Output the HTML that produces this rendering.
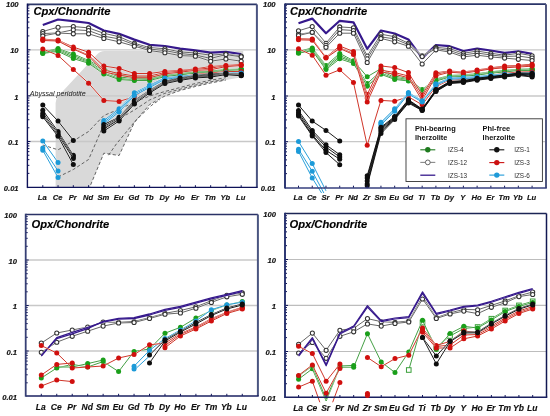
<!DOCTYPE html>
<html><head><meta charset="utf-8"><style>
html,body{margin:0;padding:0;background:#fff;}
svg{display:block;will-change:transform;}
.ax{font-family:"Liberation Sans",sans-serif;font-weight:bold;font-style:italic;font-size:7.6px;fill:#111;stroke:#111;stroke-width:0.15px;}
.ti{font-family:"Liberation Sans",sans-serif;font-weight:bold;font-style:italic;font-size:11.2px;fill:#000;stroke:#000;stroke-width:0.14px;}
.lg{font-family:"Liberation Sans",sans-serif;font-weight:bold;font-size:7.4px;fill:#111;}
.ab{font-family:"Liberation Sans",sans-serif;font-style:italic;font-size:7.1px;fill:#1a1a1a;}
.lt{font-family:"Liberation Sans",sans-serif;font-size:6.4px;fill:#2e2e2e;}
</style></head><body>
<svg width="550" height="416" viewBox="0 0 550 416">
<rect width="550" height="416" fill="#fff"/>
<path d="M55.6,187.3 L55.6,103 Q55.6,99 58.6,95.8 L96.5,55 Q100,51 104.5,51 L243.2,51 L243.2,77 L226,80 L210.7,83 L195.5,86.5 L180.2,90.5 L164.9,96 L149.7,104.5 L134.4,122.5 L119.1,155.5 L104,153.2 L89.6,187.4 Z" fill="#d9d9d9"/>
<line x1="27.4" y1="49.8" x2="256.9" y2="49.8" stroke="#c8c8c8" stroke-width="1.3"/>
<line x1="27.4" y1="95.9" x2="256.9" y2="95.9" stroke="#c8c8c8" stroke-width="1.3"/>
<line x1="27.4" y1="141.5" x2="256.9" y2="141.5" stroke="#c8c8c8" stroke-width="1.3"/>
<clipPath id="c1"><rect x="27.3" y="4.2" width="229.5" height="183.1"/></clipPath><g clip-path="url(#c1)">
<polyline points="42.8,145 58.06,149.8 73.32,141 88.58,131.5 103.84,115.5 119.1,109.2 134.36,102.3 149.62,96 164.88,91.5 180.14,87.5 195.4,83.5 210.66,80.2 225.92,77.7" fill="none" stroke="#555" stroke-width="0.9" stroke-dasharray="3.2,2.2" stroke-linejoin="round"/>
<polyline points="58.06,177 73.32,169.5 88.58,159.5 103.84,124.5 119.1,119 134.36,110 149.62,100 164.88,93.3 180.14,89.2 195.4,85.1 210.66,81.8 225.92,79.4" fill="none" stroke="#555" stroke-width="0.9" stroke-dasharray="3.2,2.2" stroke-linejoin="round"/>
<polyline points="88.58,189.8 103.84,153.2 119.1,155.5 134.36,122.5 149.62,104.5 164.88,96 180.14,90.5 195.4,86.5 210.66,83 225.92,80" fill="none" stroke="#555" stroke-width="0.9" stroke-dasharray="3.2,2.2" stroke-linejoin="round"/>
<polyline points="108.5,155.2 116.4,143.9 126.8,131.4 135.2,121 145,111.5 152,105 160,99.5" fill="none" stroke="#555" stroke-width="0.9" stroke-dasharray="3.2,2.2"/>
</g>
<polyline points="42.8,25 58.06,19.5 73.32,21.2 88.58,23 103.84,30.5 119.1,33.8 134.36,39.6 149.62,44.8 164.88,46 180.14,48.7 195.4,50.4 210.66,52.6 225.92,51.9 241.18,54" fill="none" stroke="#fff" stroke-opacity="0.7" stroke-width="2.8000000000000003" stroke-linejoin="round"/>
<polyline points="42.8,25 58.06,19.5 73.32,21.2 88.58,23 103.84,30.5 119.1,33.8 134.36,39.6 149.62,44.8 164.88,46 180.14,48.7 195.4,50.4 210.66,52.6 225.92,51.9 241.18,54" fill="none" stroke="#36198c" stroke-width="2.2" stroke-linejoin="round"/>
<polyline points="42.8,31.5 58.06,27.2 73.32,26.5 88.58,27.9 103.84,33.3 119.1,36.7 134.36,43.3 149.62,47.6 164.88,48.7 180.14,51.9 195.4,53 210.66,55.2 225.92,54 241.18,56.1" fill="none" stroke="#fff" stroke-opacity="0.7" stroke-width="1.5499999999999998" stroke-linejoin="round"/>
<polyline points="42.8,31.5 58.06,27.2 73.32,26.5 88.58,27.9 103.84,33.3 119.1,36.7 134.36,43.3 149.62,47.6 164.88,48.7 180.14,51.9 195.4,53 210.66,55.2 225.92,54 241.18,56.1" fill="none" stroke="#5e5e5e" stroke-width="0.95" stroke-linejoin="round"/>
<circle cx="42.8" cy="31.5" r="2.05" fill="#fff" stroke="#333333" stroke-width="1.05"/>
<circle cx="58.06" cy="27.2" r="2.05" fill="#fff" stroke="#333333" stroke-width="1.05"/>
<circle cx="73.32" cy="26.5" r="2.05" fill="#fff" stroke="#333333" stroke-width="1.05"/>
<circle cx="88.58" cy="27.9" r="2.05" fill="#fff" stroke="#333333" stroke-width="1.05"/>
<circle cx="103.84" cy="33.3" r="2.05" fill="#fff" stroke="#333333" stroke-width="1.05"/>
<circle cx="119.1" cy="36.7" r="2.05" fill="#fff" stroke="#333333" stroke-width="1.05"/>
<circle cx="134.36" cy="43.3" r="2.05" fill="#fff" stroke="#333333" stroke-width="1.05"/>
<circle cx="149.62" cy="47.6" r="2.05" fill="#fff" stroke="#333333" stroke-width="1.05"/>
<circle cx="164.88" cy="48.7" r="2.05" fill="#fff" stroke="#333333" stroke-width="1.05"/>
<circle cx="180.14" cy="51.9" r="2.05" fill="#fff" stroke="#333333" stroke-width="1.05"/>
<circle cx="195.4" cy="53" r="2.05" fill="#fff" stroke="#333333" stroke-width="1.05"/>
<circle cx="210.66" cy="55.2" r="2.05" fill="#fff" stroke="#333333" stroke-width="1.05"/>
<circle cx="225.92" cy="54" r="2.05" fill="#fff" stroke="#333333" stroke-width="1.05"/>
<circle cx="241.18" cy="56.1" r="2.05" fill="#fff" stroke="#333333" stroke-width="1.05"/>
<polyline points="42.8,33.5 58.06,33 73.32,29.7 88.58,30.6 103.84,36.2 119.1,38.9 134.36,44.7 149.62,49.1 164.88,50.5 180.14,53.5 195.4,55 210.66,58.4 225.92,54.6 241.18,56.8" fill="none" stroke="#fff" stroke-opacity="0.7" stroke-width="1.5499999999999998" stroke-linejoin="round"/>
<polyline points="42.8,33.5 58.06,33 73.32,29.7 88.58,30.6 103.84,36.2 119.1,38.9 134.36,44.7 149.62,49.1 164.88,50.5 180.14,53.5 195.4,55 210.66,58.4 225.92,54.6 241.18,56.8" fill="none" stroke="#5e5e5e" stroke-width="0.95" stroke-linejoin="round"/>
<circle cx="42.8" cy="33.5" r="2.05" fill="#fff" stroke="#333333" stroke-width="1.05"/>
<circle cx="58.06" cy="33" r="2.05" fill="#fff" stroke="#333333" stroke-width="1.05"/>
<circle cx="73.32" cy="29.7" r="2.05" fill="#fff" stroke="#333333" stroke-width="1.05"/>
<circle cx="88.58" cy="30.6" r="2.05" fill="#fff" stroke="#333333" stroke-width="1.05"/>
<circle cx="103.84" cy="36.2" r="2.05" fill="#fff" stroke="#333333" stroke-width="1.05"/>
<circle cx="119.1" cy="38.9" r="2.05" fill="#fff" stroke="#333333" stroke-width="1.05"/>
<circle cx="134.36" cy="44.7" r="2.05" fill="#fff" stroke="#333333" stroke-width="1.05"/>
<circle cx="149.62" cy="49.1" r="2.05" fill="#fff" stroke="#333333" stroke-width="1.05"/>
<circle cx="164.88" cy="50.5" r="2.05" fill="#fff" stroke="#333333" stroke-width="1.05"/>
<circle cx="180.14" cy="53.5" r="2.05" fill="#fff" stroke="#333333" stroke-width="1.05"/>
<circle cx="195.4" cy="55" r="2.05" fill="#fff" stroke="#333333" stroke-width="1.05"/>
<circle cx="210.66" cy="58.4" r="2.05" fill="#fff" stroke="#333333" stroke-width="1.05"/>
<circle cx="225.92" cy="54.6" r="2.05" fill="#fff" stroke="#333333" stroke-width="1.05"/>
<circle cx="241.18" cy="56.8" r="2.05" fill="#fff" stroke="#333333" stroke-width="1.05"/>
<polyline points="42.8,35.9 58.06,33 73.32,33.8 88.58,33.8 103.84,38.4 119.1,41.8 134.36,46.2 149.62,50.5 164.88,52.7 180.14,55.6 195.4,56.2 210.66,61.2 225.92,59 241.18,61.2" fill="none" stroke="#fff" stroke-opacity="0.7" stroke-width="1.5499999999999998" stroke-linejoin="round"/>
<polyline points="42.8,35.9 58.06,33 73.32,33.8 88.58,33.8 103.84,38.4 119.1,41.8 134.36,46.2 149.62,50.5 164.88,52.7 180.14,55.6 195.4,56.2 210.66,61.2 225.92,59 241.18,61.2" fill="none" stroke="#5e5e5e" stroke-width="0.95" stroke-linejoin="round"/>
<circle cx="42.8" cy="35.9" r="2.05" fill="#fff" stroke="#333333" stroke-width="1.05"/>
<circle cx="58.06" cy="33" r="2.05" fill="#fff" stroke="#333333" stroke-width="1.05"/>
<circle cx="73.32" cy="33.8" r="2.05" fill="#fff" stroke="#333333" stroke-width="1.05"/>
<circle cx="88.58" cy="33.8" r="2.05" fill="#fff" stroke="#333333" stroke-width="1.05"/>
<circle cx="103.84" cy="38.4" r="2.05" fill="#fff" stroke="#333333" stroke-width="1.05"/>
<circle cx="119.1" cy="41.8" r="2.05" fill="#fff" stroke="#333333" stroke-width="1.05"/>
<circle cx="134.36" cy="46.2" r="2.05" fill="#fff" stroke="#333333" stroke-width="1.05"/>
<circle cx="149.62" cy="50.5" r="2.05" fill="#fff" stroke="#333333" stroke-width="1.05"/>
<circle cx="164.88" cy="52.7" r="2.05" fill="#fff" stroke="#333333" stroke-width="1.05"/>
<circle cx="180.14" cy="55.6" r="2.05" fill="#fff" stroke="#333333" stroke-width="1.05"/>
<circle cx="195.4" cy="56.2" r="2.05" fill="#fff" stroke="#333333" stroke-width="1.05"/>
<circle cx="210.66" cy="61.2" r="2.05" fill="#fff" stroke="#333333" stroke-width="1.05"/>
<circle cx="225.92" cy="59" r="2.05" fill="#fff" stroke="#333333" stroke-width="1.05"/>
<circle cx="241.18" cy="61.2" r="2.05" fill="#fff" stroke="#333333" stroke-width="1.05"/>
<polyline points="42.8,51.9 58.06,48.6 73.32,54 88.58,60.5 103.84,68.6 119.1,75 134.36,76.8 149.62,76.8 164.88,75 180.14,73.3 195.4,71.8 210.66,71 225.92,69.6 241.18,69" fill="none" stroke="#fff" stroke-opacity="0.7" stroke-width="1.5499999999999998" stroke-linejoin="round"/>
<polyline points="42.8,51.9 58.06,48.6 73.32,54 88.58,60.5 103.84,68.6 119.1,75 134.36,76.8 149.62,76.8 164.88,75 180.14,73.3 195.4,71.8 210.66,71 225.92,69.6 241.18,69" fill="none" stroke="#3a9a3a" stroke-width="0.95" stroke-linejoin="round"/>
<circle cx="42.8" cy="51.9" r="2.5" fill="#1a9f1a"/>
<circle cx="58.06" cy="48.6" r="2.5" fill="#1a9f1a"/>
<circle cx="73.32" cy="54" r="2.5" fill="#1a9f1a"/>
<circle cx="88.58" cy="60.5" r="2.5" fill="#1a9f1a"/>
<circle cx="103.84" cy="68.6" r="2.5" fill="#1a9f1a"/>
<circle cx="119.1" cy="75" r="2.5" fill="#1a9f1a"/>
<circle cx="134.36" cy="76.8" r="2.5" fill="#1a9f1a"/>
<circle cx="149.62" cy="76.8" r="2.5" fill="#1a9f1a"/>
<circle cx="164.88" cy="75" r="2.5" fill="#1a9f1a"/>
<circle cx="180.14" cy="73.3" r="2.5" fill="#1a9f1a"/>
<circle cx="195.4" cy="71.8" r="2.5" fill="#1a9f1a"/>
<circle cx="210.66" cy="71" r="2.5" fill="#1a9f1a"/>
<circle cx="225.92" cy="69.6" r="2.5" fill="#1a9f1a"/>
<circle cx="241.18" cy="69" r="2.5" fill="#1a9f1a"/>
<polyline points="42.8,52.5 58.06,49.5 73.32,55.5 88.58,61.5 103.84,71 119.1,77 134.36,78.5 149.62,78.5 164.88,75.5 180.14,73.8 195.4,72.2 210.66,71.4 225.92,69.9 241.18,69.3" fill="none" stroke="#fff" stroke-opacity="0.7" stroke-width="1.5499999999999998" stroke-linejoin="round"/>
<polyline points="42.8,52.5 58.06,49.5 73.32,55.5 88.58,61.5 103.84,71 119.1,77 134.36,78.5 149.62,78.5 164.88,75.5 180.14,73.8 195.4,72.2 210.66,71.4 225.92,69.9 241.18,69.3" fill="none" stroke="#3a9a3a" stroke-width="0.95" stroke-linejoin="round"/>
<circle cx="42.8" cy="52.5" r="2.5" fill="#1a9f1a"/>
<circle cx="58.06" cy="49.5" r="2.5" fill="#1a9f1a"/>
<circle cx="73.32" cy="55.5" r="2.5" fill="#1a9f1a"/>
<circle cx="88.58" cy="61.5" r="2.5" fill="#1a9f1a"/>
<circle cx="103.84" cy="71" r="2.5" fill="#1a9f1a"/>
<circle cx="119.1" cy="77" r="2.5" fill="#1a9f1a"/>
<circle cx="134.36" cy="78.5" r="2.5" fill="#1a9f1a"/>
<circle cx="149.62" cy="78.5" r="2.5" fill="#1a9f1a"/>
<circle cx="164.88" cy="75.5" r="2.5" fill="#1a9f1a"/>
<circle cx="180.14" cy="73.8" r="2.5" fill="#1a9f1a"/>
<circle cx="195.4" cy="72.2" r="2.5" fill="#1a9f1a"/>
<circle cx="210.66" cy="71.4" r="2.5" fill="#1a9f1a"/>
<circle cx="225.92" cy="69.9" r="2.5" fill="#1a9f1a"/>
<circle cx="241.18" cy="69.3" r="2.5" fill="#1a9f1a"/>
<polyline points="42.8,53 58.06,50.5 73.32,57 88.58,62.4 103.84,73 119.1,78.5 134.36,80 149.62,79.5 164.88,76 180.14,74.3 195.4,72.7 210.66,71.9 225.92,70.2 241.18,69.6" fill="none" stroke="#fff" stroke-opacity="0.7" stroke-width="1.5499999999999998" stroke-linejoin="round"/>
<polyline points="42.8,53 58.06,50.5 73.32,57 88.58,62.4 103.84,73 119.1,78.5 134.36,80 149.62,79.5 164.88,76 180.14,74.3 195.4,72.7 210.66,71.9 225.92,70.2 241.18,69.6" fill="none" stroke="#3a9a3a" stroke-width="0.95" stroke-linejoin="round"/>
<circle cx="42.8" cy="53" r="2.5" fill="#1a9f1a"/>
<circle cx="58.06" cy="50.5" r="2.5" fill="#1a9f1a"/>
<circle cx="73.32" cy="57" r="2.5" fill="#1a9f1a"/>
<circle cx="88.58" cy="62.4" r="2.5" fill="#1a9f1a"/>
<circle cx="103.84" cy="73" r="2.5" fill="#1a9f1a"/>
<circle cx="119.1" cy="78.5" r="2.5" fill="#1a9f1a"/>
<circle cx="134.36" cy="80" r="2.5" fill="#1a9f1a"/>
<circle cx="149.62" cy="79.5" r="2.5" fill="#1a9f1a"/>
<circle cx="164.88" cy="76" r="2.5" fill="#1a9f1a"/>
<circle cx="180.14" cy="74.3" r="2.5" fill="#1a9f1a"/>
<circle cx="195.4" cy="72.7" r="2.5" fill="#1a9f1a"/>
<circle cx="210.66" cy="71.9" r="2.5" fill="#1a9f1a"/>
<circle cx="225.92" cy="70.2" r="2.5" fill="#1a9f1a"/>
<circle cx="241.18" cy="69.6" r="2.5" fill="#1a9f1a"/>
<polyline points="42.8,53.4 58.06,51.4 73.32,58.6 88.58,63.2 103.84,74 119.1,79.5 134.36,80.5 149.62,80.5 164.88,76.6 180.14,74.8 195.4,73.2 210.66,72.4 225.92,70.5 241.18,69.9" fill="none" stroke="#fff" stroke-opacity="0.7" stroke-width="1.5499999999999998" stroke-linejoin="round"/>
<polyline points="42.8,53.4 58.06,51.4 73.32,58.6 88.58,63.2 103.84,74 119.1,79.5 134.36,80.5 149.62,80.5 164.88,76.6 180.14,74.8 195.4,73.2 210.66,72.4 225.92,70.5 241.18,69.9" fill="none" stroke="#3a9a3a" stroke-width="0.95" stroke-linejoin="round"/>
<circle cx="42.8" cy="53.4" r="2.5" fill="#1a9f1a"/>
<circle cx="58.06" cy="51.4" r="2.5" fill="#1a9f1a"/>
<circle cx="73.32" cy="58.6" r="2.5" fill="#1a9f1a"/>
<circle cx="88.58" cy="63.2" r="2.5" fill="#1a9f1a"/>
<circle cx="103.84" cy="74" r="2.5" fill="#1a9f1a"/>
<circle cx="119.1" cy="79.5" r="2.5" fill="#1a9f1a"/>
<circle cx="134.36" cy="80.5" r="2.5" fill="#1a9f1a"/>
<circle cx="149.62" cy="80.5" r="2.5" fill="#1a9f1a"/>
<circle cx="164.88" cy="76.6" r="2.5" fill="#1a9f1a"/>
<circle cx="180.14" cy="74.8" r="2.5" fill="#1a9f1a"/>
<circle cx="195.4" cy="73.2" r="2.5" fill="#1a9f1a"/>
<circle cx="210.66" cy="72.4" r="2.5" fill="#1a9f1a"/>
<circle cx="225.92" cy="70.5" r="2.5" fill="#1a9f1a"/>
<circle cx="241.18" cy="69.9" r="2.5" fill="#1a9f1a"/>
<polyline points="42.8,39.1 58.06,40.1 73.32,47.1 88.58,52.2 103.84,66 119.1,68.4 134.36,73.5 149.62,73.5 164.88,71.4 180.14,70.5 195.4,68.9 210.66,66.5 225.92,65.5 241.18,64.4" fill="none" stroke="#fff" stroke-opacity="0.7" stroke-width="1.5499999999999998" stroke-linejoin="round"/>
<polyline points="42.8,39.1 58.06,40.1 73.32,47.1 88.58,52.2 103.84,66 119.1,68.4 134.36,73.5 149.62,73.5 164.88,71.4 180.14,70.5 195.4,68.9 210.66,66.5 225.92,65.5 241.18,64.4" fill="none" stroke="#cc2a1e" stroke-width="0.95" stroke-linejoin="round"/>
<circle cx="42.8" cy="39.1" r="2.5" fill="#d0100e"/>
<circle cx="58.06" cy="40.1" r="2.5" fill="#d0100e"/>
<circle cx="73.32" cy="47.1" r="2.5" fill="#d0100e"/>
<circle cx="88.58" cy="52.2" r="2.5" fill="#d0100e"/>
<circle cx="103.84" cy="66" r="2.5" fill="#d0100e"/>
<circle cx="119.1" cy="68.4" r="2.5" fill="#d0100e"/>
<circle cx="134.36" cy="73.5" r="2.5" fill="#d0100e"/>
<circle cx="149.62" cy="73.5" r="2.5" fill="#d0100e"/>
<circle cx="164.88" cy="71.4" r="2.5" fill="#d0100e"/>
<circle cx="180.14" cy="70.5" r="2.5" fill="#d0100e"/>
<circle cx="195.4" cy="68.9" r="2.5" fill="#d0100e"/>
<circle cx="210.66" cy="66.5" r="2.5" fill="#d0100e"/>
<circle cx="225.92" cy="65.5" r="2.5" fill="#d0100e"/>
<circle cx="241.18" cy="64.4" r="2.5" fill="#d0100e"/>
<polyline points="42.8,39.8 58.06,40.8 73.32,48.5 88.58,55.1 103.84,70.1 119.1,73.5 134.36,76 149.62,76 164.88,72.6 180.14,71.3 195.4,69.5 210.66,68 225.92,66 241.18,64.9" fill="none" stroke="#fff" stroke-opacity="0.7" stroke-width="1.5499999999999998" stroke-linejoin="round"/>
<polyline points="42.8,39.8 58.06,40.8 73.32,48.5 88.58,55.1 103.84,70.1 119.1,73.5 134.36,76 149.62,76 164.88,72.6 180.14,71.3 195.4,69.5 210.66,68 225.92,66 241.18,64.9" fill="none" stroke="#cc2a1e" stroke-width="0.95" stroke-linejoin="round"/>
<circle cx="42.8" cy="39.8" r="2.5" fill="#d0100e"/>
<circle cx="58.06" cy="40.8" r="2.5" fill="#d0100e"/>
<circle cx="73.32" cy="48.5" r="2.5" fill="#d0100e"/>
<circle cx="88.58" cy="55.1" r="2.5" fill="#d0100e"/>
<circle cx="103.84" cy="70.1" r="2.5" fill="#d0100e"/>
<circle cx="119.1" cy="73.5" r="2.5" fill="#d0100e"/>
<circle cx="134.36" cy="76" r="2.5" fill="#d0100e"/>
<circle cx="149.62" cy="76" r="2.5" fill="#d0100e"/>
<circle cx="164.88" cy="72.6" r="2.5" fill="#d0100e"/>
<circle cx="180.14" cy="71.3" r="2.5" fill="#d0100e"/>
<circle cx="195.4" cy="69.5" r="2.5" fill="#d0100e"/>
<circle cx="210.66" cy="68" r="2.5" fill="#d0100e"/>
<circle cx="225.92" cy="66" r="2.5" fill="#d0100e"/>
<circle cx="241.18" cy="64.9" r="2.5" fill="#d0100e"/>
<polyline points="42.8,40.5 58.06,41 73.32,49 88.58,56 103.84,71.8 119.1,75.2 134.36,77.7 149.62,77.7 164.88,73.8 180.14,72.2 195.4,70.3 210.66,69.7 225.92,66.6 241.18,65.5" fill="none" stroke="#fff" stroke-opacity="0.7" stroke-width="1.5499999999999998" stroke-linejoin="round"/>
<polyline points="42.8,40.5 58.06,41 73.32,49 88.58,56 103.84,71.8 119.1,75.2 134.36,77.7 149.62,77.7 164.88,73.8 180.14,72.2 195.4,70.3 210.66,69.7 225.92,66.6 241.18,65.5" fill="none" stroke="#cc2a1e" stroke-width="0.95" stroke-linejoin="round"/>
<circle cx="42.8" cy="40.5" r="2.5" fill="#d0100e"/>
<circle cx="58.06" cy="41" r="2.5" fill="#d0100e"/>
<circle cx="73.32" cy="49" r="2.5" fill="#d0100e"/>
<circle cx="88.58" cy="56" r="2.5" fill="#d0100e"/>
<circle cx="103.84" cy="71.8" r="2.5" fill="#d0100e"/>
<circle cx="119.1" cy="75.2" r="2.5" fill="#d0100e"/>
<circle cx="134.36" cy="77.7" r="2.5" fill="#d0100e"/>
<circle cx="149.62" cy="77.7" r="2.5" fill="#d0100e"/>
<circle cx="164.88" cy="73.8" r="2.5" fill="#d0100e"/>
<circle cx="180.14" cy="72.2" r="2.5" fill="#d0100e"/>
<circle cx="195.4" cy="70.3" r="2.5" fill="#d0100e"/>
<circle cx="210.66" cy="69.7" r="2.5" fill="#d0100e"/>
<circle cx="225.92" cy="66.6" r="2.5" fill="#d0100e"/>
<circle cx="241.18" cy="65.5" r="2.5" fill="#d0100e"/>
<polyline points="42.8,49 58.06,55.4 73.32,69.5 88.58,83.2 103.84,100.5 119.1,101.4 134.36,96.8 149.62,86 164.88,79 180.14,76.5 195.4,74.5 210.66,73 225.92,71.6 241.18,71.4" fill="none" stroke="#fff" stroke-opacity="0.7" stroke-width="1.5499999999999998" stroke-linejoin="round"/>
<polyline points="42.8,49 58.06,55.4 73.32,69.5 88.58,83.2 103.84,100.5 119.1,101.4 134.36,96.8 149.62,86 164.88,79 180.14,76.5 195.4,74.5 210.66,73 225.92,71.6 241.18,71.4" fill="none" stroke="#cc2a1e" stroke-width="0.95" stroke-linejoin="round"/>
<circle cx="42.8" cy="49" r="2.5" fill="#d0100e"/>
<circle cx="58.06" cy="55.4" r="2.5" fill="#d0100e"/>
<circle cx="73.32" cy="69.5" r="2.5" fill="#d0100e"/>
<circle cx="88.58" cy="83.2" r="2.5" fill="#d0100e"/>
<circle cx="103.84" cy="100.5" r="2.5" fill="#d0100e"/>
<circle cx="119.1" cy="101.4" r="2.5" fill="#d0100e"/>
<circle cx="134.36" cy="96.8" r="2.5" fill="#d0100e"/>
<circle cx="149.62" cy="86" r="2.5" fill="#d0100e"/>
<circle cx="164.88" cy="79" r="2.5" fill="#d0100e"/>
<circle cx="180.14" cy="76.5" r="2.5" fill="#d0100e"/>
<circle cx="195.4" cy="74.5" r="2.5" fill="#d0100e"/>
<circle cx="210.66" cy="73" r="2.5" fill="#d0100e"/>
<circle cx="225.92" cy="71.6" r="2.5" fill="#d0100e"/>
<circle cx="241.18" cy="71.4" r="2.5" fill="#d0100e"/>
<polyline points="42.8,141 58.06,162.5" fill="none" stroke="#fff" stroke-opacity="0.7" stroke-width="1.5499999999999998" stroke-linejoin="round"/>
<polyline points="42.8,141 58.06,162.5" fill="none" stroke="#1c9ad8" stroke-width="0.95" stroke-linejoin="round"/>
<polyline points="103.84,120.5 119.1,108.8 134.36,92.8 149.62,85.3 164.88,77.9 180.14,76.3 195.4,75 210.66,74 225.92,72.8 241.18,73" fill="none" stroke="#fff" stroke-opacity="0.7" stroke-width="1.5499999999999998" stroke-linejoin="round"/>
<polyline points="103.84,120.5 119.1,108.8 134.36,92.8 149.62,85.3 164.88,77.9 180.14,76.3 195.4,75 210.66,74 225.92,72.8 241.18,73" fill="none" stroke="#1c9ad8" stroke-width="0.95" stroke-linejoin="round"/>
<circle cx="42.8" cy="141" r="2.5" fill="#1c9ad8"/>
<circle cx="58.06" cy="162.5" r="2.5" fill="#1c9ad8"/>
<circle cx="103.84" cy="120.5" r="2.5" fill="#1c9ad8"/>
<circle cx="119.1" cy="108.8" r="2.5" fill="#1c9ad8"/>
<circle cx="134.36" cy="92.8" r="2.5" fill="#1c9ad8"/>
<circle cx="149.62" cy="85.3" r="2.5" fill="#1c9ad8"/>
<circle cx="164.88" cy="77.9" r="2.5" fill="#1c9ad8"/>
<circle cx="180.14" cy="76.3" r="2.5" fill="#1c9ad8"/>
<circle cx="195.4" cy="75" r="2.5" fill="#1c9ad8"/>
<circle cx="210.66" cy="74" r="2.5" fill="#1c9ad8"/>
<circle cx="225.92" cy="72.8" r="2.5" fill="#1c9ad8"/>
<circle cx="241.18" cy="73" r="2.5" fill="#1c9ad8"/>
<polyline points="42.8,148 58.06,170.9" fill="none" stroke="#fff" stroke-opacity="0.7" stroke-width="1.5499999999999998" stroke-linejoin="round"/>
<polyline points="42.8,148 58.06,170.9" fill="none" stroke="#1c9ad8" stroke-width="0.95" stroke-linejoin="round"/>
<polyline points="103.84,122.3 119.1,110.5 134.36,94 149.62,86.5 164.88,78.6 180.14,76.9 195.4,75.5 210.66,74.5 225.92,73.2 241.18,73.5" fill="none" stroke="#fff" stroke-opacity="0.7" stroke-width="1.5499999999999998" stroke-linejoin="round"/>
<polyline points="103.84,122.3 119.1,110.5 134.36,94 149.62,86.5 164.88,78.6 180.14,76.9 195.4,75.5 210.66,74.5 225.92,73.2 241.18,73.5" fill="none" stroke="#1c9ad8" stroke-width="0.95" stroke-linejoin="round"/>
<circle cx="42.8" cy="148" r="2.5" fill="#1c9ad8"/>
<circle cx="58.06" cy="170.9" r="2.5" fill="#1c9ad8"/>
<circle cx="103.84" cy="122.3" r="2.5" fill="#1c9ad8"/>
<circle cx="119.1" cy="110.5" r="2.5" fill="#1c9ad8"/>
<circle cx="134.36" cy="94" r="2.5" fill="#1c9ad8"/>
<circle cx="149.62" cy="86.5" r="2.5" fill="#1c9ad8"/>
<circle cx="164.88" cy="78.6" r="2.5" fill="#1c9ad8"/>
<circle cx="180.14" cy="76.9" r="2.5" fill="#1c9ad8"/>
<circle cx="195.4" cy="75.5" r="2.5" fill="#1c9ad8"/>
<circle cx="210.66" cy="74.5" r="2.5" fill="#1c9ad8"/>
<circle cx="225.92" cy="73.2" r="2.5" fill="#1c9ad8"/>
<circle cx="241.18" cy="73.5" r="2.5" fill="#1c9ad8"/>
<polyline points="42.8,150.3 58.06,177.5" fill="none" stroke="#fff" stroke-opacity="0.7" stroke-width="1.5499999999999998" stroke-linejoin="round"/>
<polyline points="42.8,150.3 58.06,177.5" fill="none" stroke="#1c9ad8" stroke-width="0.95" stroke-linejoin="round"/>
<polyline points="103.84,124 119.1,112 134.36,95.5 149.62,87.5 164.88,79.3 180.14,77.5 195.4,76 210.66,75 225.92,73.6 241.18,74" fill="none" stroke="#fff" stroke-opacity="0.7" stroke-width="1.5499999999999998" stroke-linejoin="round"/>
<polyline points="103.84,124 119.1,112 134.36,95.5 149.62,87.5 164.88,79.3 180.14,77.5 195.4,76 210.66,75 225.92,73.6 241.18,74" fill="none" stroke="#1c9ad8" stroke-width="0.95" stroke-linejoin="round"/>
<circle cx="42.8" cy="150.3" r="2.5" fill="#1c9ad8"/>
<circle cx="58.06" cy="177.5" r="2.5" fill="#1c9ad8"/>
<circle cx="103.84" cy="124" r="2.5" fill="#1c9ad8"/>
<circle cx="119.1" cy="112" r="2.5" fill="#1c9ad8"/>
<circle cx="134.36" cy="95.5" r="2.5" fill="#1c9ad8"/>
<circle cx="149.62" cy="87.5" r="2.5" fill="#1c9ad8"/>
<circle cx="164.88" cy="79.3" r="2.5" fill="#1c9ad8"/>
<circle cx="180.14" cy="77.5" r="2.5" fill="#1c9ad8"/>
<circle cx="195.4" cy="76" r="2.5" fill="#1c9ad8"/>
<circle cx="210.66" cy="75" r="2.5" fill="#1c9ad8"/>
<circle cx="225.92" cy="73.6" r="2.5" fill="#1c9ad8"/>
<circle cx="241.18" cy="74" r="2.5" fill="#1c9ad8"/>
<polyline points="42.8,105 58.06,121.1 73.32,140.4" fill="none" stroke="#fff" stroke-opacity="0.7" stroke-width="1.5499999999999998" stroke-linejoin="round"/>
<polyline points="42.8,105 58.06,121.1 73.32,140.4" fill="none" stroke="#0e0e0e" stroke-width="0.95" stroke-linejoin="round"/>
<polyline points="103.84,124.5 119.1,117.2 134.36,100.4 149.62,90.3 164.88,81.2 180.14,77.9 195.4,75.5 210.66,73.8 225.92,73.2 241.18,74.2" fill="none" stroke="#fff" stroke-opacity="0.7" stroke-width="1.5499999999999998" stroke-linejoin="round"/>
<polyline points="103.84,124.5 119.1,117.2 134.36,100.4 149.62,90.3 164.88,81.2 180.14,77.9 195.4,75.5 210.66,73.8 225.92,73.2 241.18,74.2" fill="none" stroke="#0e0e0e" stroke-width="0.95" stroke-linejoin="round"/>
<circle cx="42.8" cy="105" r="2.5" fill="#0e0e0e"/>
<circle cx="58.06" cy="121.1" r="2.5" fill="#0e0e0e"/>
<circle cx="73.32" cy="140.4" r="2.5" fill="#0e0e0e"/>
<circle cx="103.84" cy="124.5" r="2.5" fill="#0e0e0e"/>
<circle cx="119.1" cy="117.2" r="2.5" fill="#0e0e0e"/>
<circle cx="134.36" cy="100.4" r="2.5" fill="#0e0e0e"/>
<circle cx="149.62" cy="90.3" r="2.5" fill="#0e0e0e"/>
<circle cx="164.88" cy="81.2" r="2.5" fill="#0e0e0e"/>
<circle cx="180.14" cy="77.9" r="2.5" fill="#0e0e0e"/>
<circle cx="195.4" cy="75.5" r="2.5" fill="#0e0e0e"/>
<circle cx="210.66" cy="73.8" r="2.5" fill="#0e0e0e"/>
<circle cx="225.92" cy="73.2" r="2.5" fill="#0e0e0e"/>
<circle cx="241.18" cy="74.2" r="2.5" fill="#0e0e0e"/>
<polyline points="42.8,110.3 58.06,131.5 73.32,155.2" fill="none" stroke="#fff" stroke-opacity="0.7" stroke-width="1.5499999999999998" stroke-linejoin="round"/>
<polyline points="42.8,110.3 58.06,131.5 73.32,155.2" fill="none" stroke="#0e0e0e" stroke-width="0.95" stroke-linejoin="round"/>
<polyline points="103.84,126.5 119.1,118 134.36,101.5 149.62,91 164.88,81.8 180.14,78.5 195.4,76.1 210.66,74.6 225.92,73.6 241.18,74.6" fill="none" stroke="#fff" stroke-opacity="0.7" stroke-width="1.5499999999999998" stroke-linejoin="round"/>
<polyline points="103.84,126.5 119.1,118 134.36,101.5 149.62,91 164.88,81.8 180.14,78.5 195.4,76.1 210.66,74.6 225.92,73.6 241.18,74.6" fill="none" stroke="#0e0e0e" stroke-width="0.95" stroke-linejoin="round"/>
<circle cx="42.8" cy="110.3" r="2.5" fill="#0e0e0e"/>
<circle cx="58.06" cy="131.5" r="2.5" fill="#0e0e0e"/>
<circle cx="73.32" cy="155.2" r="2.5" fill="#0e0e0e"/>
<circle cx="103.84" cy="126.5" r="2.5" fill="#0e0e0e"/>
<circle cx="119.1" cy="118" r="2.5" fill="#0e0e0e"/>
<circle cx="134.36" cy="101.5" r="2.5" fill="#0e0e0e"/>
<circle cx="149.62" cy="91" r="2.5" fill="#0e0e0e"/>
<circle cx="164.88" cy="81.8" r="2.5" fill="#0e0e0e"/>
<circle cx="180.14" cy="78.5" r="2.5" fill="#0e0e0e"/>
<circle cx="195.4" cy="76.1" r="2.5" fill="#0e0e0e"/>
<circle cx="210.66" cy="74.6" r="2.5" fill="#0e0e0e"/>
<circle cx="225.92" cy="73.6" r="2.5" fill="#0e0e0e"/>
<circle cx="241.18" cy="74.6" r="2.5" fill="#0e0e0e"/>
<polyline points="42.8,113.2 58.06,133.2 73.32,156.8" fill="none" stroke="#fff" stroke-opacity="0.7" stroke-width="1.5499999999999998" stroke-linejoin="round"/>
<polyline points="42.8,113.2 58.06,133.2 73.32,156.8" fill="none" stroke="#0e0e0e" stroke-width="0.95" stroke-linejoin="round"/>
<polyline points="103.84,128 119.1,119 134.36,102.5 149.62,91.5 164.88,82.4 180.14,79.2 195.4,76.7 210.66,75.4 225.92,74 241.18,75" fill="none" stroke="#fff" stroke-opacity="0.7" stroke-width="1.5499999999999998" stroke-linejoin="round"/>
<polyline points="103.84,128 119.1,119 134.36,102.5 149.62,91.5 164.88,82.4 180.14,79.2 195.4,76.7 210.66,75.4 225.92,74 241.18,75" fill="none" stroke="#0e0e0e" stroke-width="0.95" stroke-linejoin="round"/>
<circle cx="42.8" cy="113.2" r="2.5" fill="#0e0e0e"/>
<circle cx="58.06" cy="133.2" r="2.5" fill="#0e0e0e"/>
<circle cx="73.32" cy="156.8" r="2.5" fill="#0e0e0e"/>
<circle cx="103.84" cy="128" r="2.5" fill="#0e0e0e"/>
<circle cx="119.1" cy="119" r="2.5" fill="#0e0e0e"/>
<circle cx="134.36" cy="102.5" r="2.5" fill="#0e0e0e"/>
<circle cx="149.62" cy="91.5" r="2.5" fill="#0e0e0e"/>
<circle cx="164.88" cy="82.4" r="2.5" fill="#0e0e0e"/>
<circle cx="180.14" cy="79.2" r="2.5" fill="#0e0e0e"/>
<circle cx="195.4" cy="76.7" r="2.5" fill="#0e0e0e"/>
<circle cx="210.66" cy="75.4" r="2.5" fill="#0e0e0e"/>
<circle cx="225.92" cy="74" r="2.5" fill="#0e0e0e"/>
<circle cx="241.18" cy="75" r="2.5" fill="#0e0e0e"/>
<polyline points="42.8,115.2 58.06,134.9 73.32,158.4" fill="none" stroke="#fff" stroke-opacity="0.7" stroke-width="1.5499999999999998" stroke-linejoin="round"/>
<polyline points="42.8,115.2 58.06,134.9 73.32,158.4" fill="none" stroke="#0e0e0e" stroke-width="0.95" stroke-linejoin="round"/>
<polyline points="103.84,129 119.1,119.5 134.36,103 149.62,92 164.88,83 180.14,79.8 195.4,77.3 210.66,76.2 225.92,74.3 241.18,75.4" fill="none" stroke="#fff" stroke-opacity="0.7" stroke-width="1.5499999999999998" stroke-linejoin="round"/>
<polyline points="103.84,129 119.1,119.5 134.36,103 149.62,92 164.88,83 180.14,79.8 195.4,77.3 210.66,76.2 225.92,74.3 241.18,75.4" fill="none" stroke="#0e0e0e" stroke-width="0.95" stroke-linejoin="round"/>
<circle cx="42.8" cy="115.2" r="2.5" fill="#0e0e0e"/>
<circle cx="58.06" cy="134.9" r="2.5" fill="#0e0e0e"/>
<circle cx="73.32" cy="158.4" r="2.5" fill="#0e0e0e"/>
<circle cx="103.84" cy="129" r="2.5" fill="#0e0e0e"/>
<circle cx="119.1" cy="119.5" r="2.5" fill="#0e0e0e"/>
<circle cx="134.36" cy="103" r="2.5" fill="#0e0e0e"/>
<circle cx="149.62" cy="92" r="2.5" fill="#0e0e0e"/>
<circle cx="164.88" cy="83" r="2.5" fill="#0e0e0e"/>
<circle cx="180.14" cy="79.8" r="2.5" fill="#0e0e0e"/>
<circle cx="195.4" cy="77.3" r="2.5" fill="#0e0e0e"/>
<circle cx="210.66" cy="76.2" r="2.5" fill="#0e0e0e"/>
<circle cx="225.92" cy="74.3" r="2.5" fill="#0e0e0e"/>
<circle cx="241.18" cy="75.4" r="2.5" fill="#0e0e0e"/>
<polyline points="42.8,116.8 58.06,136.3 73.32,164.6" fill="none" stroke="#fff" stroke-opacity="0.7" stroke-width="1.5499999999999998" stroke-linejoin="round"/>
<polyline points="42.8,116.8 58.06,136.3 73.32,164.6" fill="none" stroke="#0e0e0e" stroke-width="0.95" stroke-linejoin="round"/>
<polyline points="103.84,131 119.1,121 134.36,104 149.62,93 164.88,83.6 180.14,80.4 195.4,77.9 210.66,77.1 225.92,74.6 241.18,75.8" fill="none" stroke="#fff" stroke-opacity="0.7" stroke-width="1.5499999999999998" stroke-linejoin="round"/>
<polyline points="103.84,131 119.1,121 134.36,104 149.62,93 164.88,83.6 180.14,80.4 195.4,77.9 210.66,77.1 225.92,74.6 241.18,75.8" fill="none" stroke="#0e0e0e" stroke-width="0.95" stroke-linejoin="round"/>
<circle cx="42.8" cy="116.8" r="2.5" fill="#0e0e0e"/>
<circle cx="58.06" cy="136.3" r="2.5" fill="#0e0e0e"/>
<circle cx="73.32" cy="164.6" r="2.5" fill="#0e0e0e"/>
<circle cx="103.84" cy="131" r="2.5" fill="#0e0e0e"/>
<circle cx="119.1" cy="121" r="2.5" fill="#0e0e0e"/>
<circle cx="134.36" cy="104" r="2.5" fill="#0e0e0e"/>
<circle cx="149.62" cy="93" r="2.5" fill="#0e0e0e"/>
<circle cx="164.88" cy="83.6" r="2.5" fill="#0e0e0e"/>
<circle cx="180.14" cy="80.4" r="2.5" fill="#0e0e0e"/>
<circle cx="195.4" cy="77.9" r="2.5" fill="#0e0e0e"/>
<circle cx="210.66" cy="77.1" r="2.5" fill="#0e0e0e"/>
<circle cx="225.92" cy="74.6" r="2.5" fill="#0e0e0e"/>
<circle cx="241.18" cy="75.8" r="2.5" fill="#0e0e0e"/>
<text x="29.8" y="95.7" class="ab">Abyssal peridotite</text>
<path d="M27.4,35.92h2 M27.4,27.8h2 M27.4,22.05h2 M27.4,17.58h2 M27.4,13.93h2 M27.4,10.84h2 M27.4,8.17h2 M27.4,5.81h2 M27.4,49.8h3 M27.4,82.02h2 M27.4,73.9h2 M27.4,68.15h2 M27.4,63.68h2 M27.4,60.03h2 M27.4,56.94h2 M27.4,54.27h2 M27.4,51.91h2 M27.4,95.9h3 M27.4,127.77h2 M27.4,119.74h2 M27.4,114.05h2 M27.4,109.63h2 M27.4,106.02h2 M27.4,102.96h2 M27.4,100.32h2 M27.4,97.99h2 M27.4,141.5h3 M27.4,173.37h2 M27.4,165.34h2 M27.4,159.65h2 M27.4,155.23h2 M27.4,151.62h2 M27.4,148.56h2 M27.4,145.92h2 M27.4,143.59h2 M42.8,187.4v-2.2 M58.06,187.4v-2.2 M73.32,187.4v-2.2 M88.58,187.4v-2.2 M103.84,187.4v-2.2 M119.1,187.4v-2.2 M134.36,187.4v-2.2 M149.62,187.4v-2.2 M164.88,187.4v-2.2 M180.14,187.4v-2.2 M195.4,187.4v-2.2 M210.66,187.4v-2.2 M225.92,187.4v-2.2 M241.18,187.4v-2.2" stroke="#10145a" stroke-width="1" fill="none"/>
<line x1="27.4" y1="4.4" x2="256.9" y2="4.4" stroke="#2c3768" stroke-width="1.7"/>
<line x1="256.9" y1="4.4" x2="256.9" y2="187.4" stroke="#4a5380" stroke-width="2.0"/>
<line x1="27.4" y1="187.4" x2="257.7" y2="187.4" stroke="#0e1258" stroke-width="1.3"/>
<line x1="27.4" y1="3.6" x2="27.4" y2="188.1" stroke="#0e1258" stroke-width="1.4"/>
<text x="18.6" y="7.3" text-anchor="end" class="ax">100</text>
<text x="18.6" y="53.4" text-anchor="end" class="ax">10</text>
<text x="18.6" y="99.5" text-anchor="end" class="ax">1</text>
<text x="18.6" y="145.1" text-anchor="end" class="ax">0.1</text>
<text x="18.6" y="190.7" text-anchor="end" class="ax">0.01</text>
<text x="42.3" y="199.7" text-anchor="middle" class="ax" style="font-size:7.6px">La</text>
<text x="57.56" y="199.7" text-anchor="middle" class="ax" style="font-size:7.6px">Ce</text>
<text x="72.82" y="199.7" text-anchor="middle" class="ax" style="font-size:7.6px">Pr</text>
<text x="88.08" y="199.7" text-anchor="middle" class="ax" style="font-size:7.6px">Nd</text>
<text x="103.34" y="199.7" text-anchor="middle" class="ax" style="font-size:7.6px">Sm</text>
<text x="118.6" y="199.7" text-anchor="middle" class="ax" style="font-size:7.6px">Eu</text>
<text x="133.86" y="199.7" text-anchor="middle" class="ax" style="font-size:7.6px">Gd</text>
<text x="149.12" y="199.7" text-anchor="middle" class="ax" style="font-size:7.6px">Tb</text>
<text x="164.38" y="199.7" text-anchor="middle" class="ax" style="font-size:7.6px">Dy</text>
<text x="179.64" y="199.7" text-anchor="middle" class="ax" style="font-size:7.6px">Ho</text>
<text x="194.9" y="199.7" text-anchor="middle" class="ax" style="font-size:7.6px">Er</text>
<text x="210.16" y="199.7" text-anchor="middle" class="ax" style="font-size:7.6px">Tm</text>
<text x="225.42" y="199.7" text-anchor="middle" class="ax" style="font-size:7.6px">Yb</text>
<text x="240.68" y="199.7" text-anchor="middle" class="ax" style="font-size:7.6px">Lu</text>
<text x="33.4" y="14.7" class="ti">Cpx/Chondrite</text>
<line x1="285" y1="49.8" x2="546" y2="49.8" stroke="#c8c8c8" stroke-width="1.3"/>
<line x1="285" y1="96" x2="546" y2="96" stroke="#c8c8c8" stroke-width="1.3"/>
<line x1="285" y1="141.7" x2="546" y2="141.7" stroke="#c8c8c8" stroke-width="1.3"/>
<clipPath id="k2"><rect x="285" y="4.2" width="261" height="188.7"/></clipPath><g clip-path="url(#k2)">
<polyline points="298.5,23.2 312.24,18.6 325.98,33.3 339.72,20.8 353.46,22.3 367.2,48.8 380.94,30.5 394.68,33.5 408.42,39.4 422.16,58.1 435.9,45 449.64,46.2 463.38,51 477.12,48.6 490.86,50.5 504.6,52.9 518.34,51.4 532.08,53.8" fill="none" stroke="#fff" stroke-opacity="0.7" stroke-width="2.8000000000000003" stroke-linejoin="round"/>
<polyline points="298.5,23.2 312.24,18.6 325.98,33.3 339.72,20.8 353.46,22.3 367.2,48.8 380.94,30.5 394.68,33.5 408.42,39.4 422.16,58.1 435.9,45 449.64,46.2 463.38,51 477.12,48.6 490.86,50.5 504.6,52.9 518.34,51.4 532.08,53.8" fill="none" stroke="#36198c" stroke-width="2.2" stroke-linejoin="round"/>
<polyline points="298.5,30.8 312.24,26.6 325.98,43.2 339.72,26.9 353.46,27.8 367.2,56.1 380.94,34.2 394.68,36.7 408.42,43.3 422.16,55.7 435.9,47.4 449.64,48.6 463.38,53.3 477.12,51 490.86,53.3 504.6,55.2 518.34,53.3 532.08,55.7" fill="none" stroke="#fff" stroke-opacity="0.7" stroke-width="1.5499999999999998" stroke-linejoin="round"/>
<polyline points="298.5,30.8 312.24,26.6 325.98,43.2 339.72,26.9 353.46,27.8 367.2,56.1 380.94,34.2 394.68,36.7 408.42,43.3 422.16,55.7 435.9,47.4 449.64,48.6 463.38,53.3 477.12,51 490.86,53.3 504.6,55.2 518.34,53.3 532.08,55.7" fill="none" stroke="#5e5e5e" stroke-width="0.95" stroke-linejoin="round"/>
<circle cx="298.5" cy="30.8" r="2.05" fill="#fff" stroke="#333333" stroke-width="1.05"/>
<circle cx="312.24" cy="26.6" r="2.05" fill="#fff" stroke="#333333" stroke-width="1.05"/>
<circle cx="325.98" cy="43.2" r="2.05" fill="#fff" stroke="#333333" stroke-width="1.05"/>
<circle cx="339.72" cy="26.9" r="2.05" fill="#fff" stroke="#333333" stroke-width="1.05"/>
<circle cx="353.46" cy="27.8" r="2.05" fill="#fff" stroke="#333333" stroke-width="1.05"/>
<circle cx="367.2" cy="56.1" r="2.05" fill="#fff" stroke="#333333" stroke-width="1.05"/>
<circle cx="380.94" cy="34.2" r="2.05" fill="#fff" stroke="#333333" stroke-width="1.05"/>
<circle cx="394.68" cy="36.7" r="2.05" fill="#fff" stroke="#333333" stroke-width="1.05"/>
<circle cx="408.42" cy="43.3" r="2.05" fill="#fff" stroke="#333333" stroke-width="1.05"/>
<circle cx="422.16" cy="55.7" r="2.05" fill="#fff" stroke="#333333" stroke-width="1.05"/>
<circle cx="435.9" cy="47.4" r="2.05" fill="#fff" stroke="#333333" stroke-width="1.05"/>
<circle cx="449.64" cy="48.6" r="2.05" fill="#fff" stroke="#333333" stroke-width="1.05"/>
<circle cx="463.38" cy="53.3" r="2.05" fill="#fff" stroke="#333333" stroke-width="1.05"/>
<circle cx="477.12" cy="51" r="2.05" fill="#fff" stroke="#333333" stroke-width="1.05"/>
<circle cx="490.86" cy="53.3" r="2.05" fill="#fff" stroke="#333333" stroke-width="1.05"/>
<circle cx="504.6" cy="55.2" r="2.05" fill="#fff" stroke="#333333" stroke-width="1.05"/>
<circle cx="518.34" cy="53.3" r="2.05" fill="#fff" stroke="#333333" stroke-width="1.05"/>
<circle cx="532.08" cy="55.7" r="2.05" fill="#fff" stroke="#333333" stroke-width="1.05"/>
<polyline points="298.5,34.3 312.24,32.3 325.98,45.3 339.72,29.6 353.46,30.5 367.2,58.8 380.94,36.9 394.68,38.9 408.42,44.7 422.16,56.5 435.9,48.6 449.64,50.5 463.38,55 477.12,53 490.86,55 504.6,56.5 518.34,56 532.08,58" fill="none" stroke="#fff" stroke-opacity="0.7" stroke-width="1.5499999999999998" stroke-linejoin="round"/>
<polyline points="298.5,34.3 312.24,32.3 325.98,45.3 339.72,29.6 353.46,30.5 367.2,58.8 380.94,36.9 394.68,38.9 408.42,44.7 422.16,56.5 435.9,48.6 449.64,50.5 463.38,55 477.12,53 490.86,55 504.6,56.5 518.34,56 532.08,58" fill="none" stroke="#5e5e5e" stroke-width="0.95" stroke-linejoin="round"/>
<circle cx="298.5" cy="34.3" r="2.05" fill="#fff" stroke="#333333" stroke-width="1.05"/>
<circle cx="312.24" cy="32.3" r="2.05" fill="#fff" stroke="#333333" stroke-width="1.05"/>
<circle cx="325.98" cy="45.3" r="2.05" fill="#fff" stroke="#333333" stroke-width="1.05"/>
<circle cx="339.72" cy="29.6" r="2.05" fill="#fff" stroke="#333333" stroke-width="1.05"/>
<circle cx="353.46" cy="30.5" r="2.05" fill="#fff" stroke="#333333" stroke-width="1.05"/>
<circle cx="367.2" cy="58.8" r="2.05" fill="#fff" stroke="#333333" stroke-width="1.05"/>
<circle cx="380.94" cy="36.9" r="2.05" fill="#fff" stroke="#333333" stroke-width="1.05"/>
<circle cx="394.68" cy="38.9" r="2.05" fill="#fff" stroke="#333333" stroke-width="1.05"/>
<circle cx="408.42" cy="44.7" r="2.05" fill="#fff" stroke="#333333" stroke-width="1.05"/>
<circle cx="422.16" cy="56.5" r="2.05" fill="#fff" stroke="#333333" stroke-width="1.05"/>
<circle cx="435.9" cy="48.6" r="2.05" fill="#fff" stroke="#333333" stroke-width="1.05"/>
<circle cx="449.64" cy="50.5" r="2.05" fill="#fff" stroke="#333333" stroke-width="1.05"/>
<circle cx="463.38" cy="55" r="2.05" fill="#fff" stroke="#333333" stroke-width="1.05"/>
<circle cx="477.12" cy="53" r="2.05" fill="#fff" stroke="#333333" stroke-width="1.05"/>
<circle cx="490.86" cy="55" r="2.05" fill="#fff" stroke="#333333" stroke-width="1.05"/>
<circle cx="504.6" cy="56.5" r="2.05" fill="#fff" stroke="#333333" stroke-width="1.05"/>
<circle cx="518.34" cy="56" r="2.05" fill="#fff" stroke="#333333" stroke-width="1.05"/>
<circle cx="532.08" cy="58" r="2.05" fill="#fff" stroke="#333333" stroke-width="1.05"/>
<polyline points="298.5,35.5 312.24,32.3 325.98,47.3 339.72,33.2 353.46,33.2 367.2,62.5 380.94,38.4 394.68,41.8 408.42,46.2 422.16,64 435.9,49.8 449.64,52.1 463.38,56.9 477.12,55.2 490.86,56.9 504.6,58.1 518.34,59.3 532.08,60.5" fill="none" stroke="#fff" stroke-opacity="0.7" stroke-width="1.5499999999999998" stroke-linejoin="round"/>
<polyline points="298.5,35.5 312.24,32.3 325.98,47.3 339.72,33.2 353.46,33.2 367.2,62.5 380.94,38.4 394.68,41.8 408.42,46.2 422.16,64 435.9,49.8 449.64,52.1 463.38,56.9 477.12,55.2 490.86,56.9 504.6,58.1 518.34,59.3 532.08,60.5" fill="none" stroke="#5e5e5e" stroke-width="0.95" stroke-linejoin="round"/>
<circle cx="298.5" cy="35.5" r="2.05" fill="#fff" stroke="#333333" stroke-width="1.05"/>
<circle cx="312.24" cy="32.3" r="2.05" fill="#fff" stroke="#333333" stroke-width="1.05"/>
<circle cx="325.98" cy="47.3" r="2.05" fill="#fff" stroke="#333333" stroke-width="1.05"/>
<circle cx="339.72" cy="33.2" r="2.05" fill="#fff" stroke="#333333" stroke-width="1.05"/>
<circle cx="353.46" cy="33.2" r="2.05" fill="#fff" stroke="#333333" stroke-width="1.05"/>
<circle cx="367.2" cy="62.5" r="2.05" fill="#fff" stroke="#333333" stroke-width="1.05"/>
<circle cx="380.94" cy="38.4" r="2.05" fill="#fff" stroke="#333333" stroke-width="1.05"/>
<circle cx="394.68" cy="41.8" r="2.05" fill="#fff" stroke="#333333" stroke-width="1.05"/>
<circle cx="408.42" cy="46.2" r="2.05" fill="#fff" stroke="#333333" stroke-width="1.05"/>
<circle cx="422.16" cy="64" r="2.05" fill="#fff" stroke="#333333" stroke-width="1.05"/>
<circle cx="435.9" cy="49.8" r="2.05" fill="#fff" stroke="#333333" stroke-width="1.05"/>
<circle cx="449.64" cy="52.1" r="2.05" fill="#fff" stroke="#333333" stroke-width="1.05"/>
<circle cx="463.38" cy="56.9" r="2.05" fill="#fff" stroke="#333333" stroke-width="1.05"/>
<circle cx="477.12" cy="55.2" r="2.05" fill="#fff" stroke="#333333" stroke-width="1.05"/>
<circle cx="490.86" cy="56.9" r="2.05" fill="#fff" stroke="#333333" stroke-width="1.05"/>
<circle cx="504.6" cy="58.1" r="2.05" fill="#fff" stroke="#333333" stroke-width="1.05"/>
<circle cx="518.34" cy="59.3" r="2.05" fill="#fff" stroke="#333333" stroke-width="1.05"/>
<circle cx="532.08" cy="60.5" r="2.05" fill="#fff" stroke="#333333" stroke-width="1.05"/>
<polyline points="298.5,51.5 312.24,47.9 325.98,65.5 339.72,53.4 353.46,60.7 367.2,76.8 380.94,68.6 394.68,76 408.42,78.5 422.16,89.6 435.9,79 449.64,75.5 463.38,74.8 477.12,73.6 490.86,71.8 504.6,70.4 518.34,69.2 532.08,68.8" fill="none" stroke="#fff" stroke-opacity="0.7" stroke-width="1.5499999999999998" stroke-linejoin="round"/>
<polyline points="298.5,51.5 312.24,47.9 325.98,65.5 339.72,53.4 353.46,60.7 367.2,76.8 380.94,68.6 394.68,76 408.42,78.5 422.16,89.6 435.9,79 449.64,75.5 463.38,74.8 477.12,73.6 490.86,71.8 504.6,70.4 518.34,69.2 532.08,68.8" fill="none" stroke="#3a9a3a" stroke-width="0.95" stroke-linejoin="round"/>
<circle cx="298.5" cy="51.5" r="2.5" fill="#1a9f1a"/>
<circle cx="312.24" cy="47.9" r="2.5" fill="#1a9f1a"/>
<circle cx="325.98" cy="65.5" r="2.5" fill="#1a9f1a"/>
<circle cx="339.72" cy="53.4" r="2.5" fill="#1a9f1a"/>
<circle cx="353.46" cy="60.7" r="2.5" fill="#1a9f1a"/>
<circle cx="367.2" cy="76.8" r="2.5" fill="#1a9f1a"/>
<circle cx="380.94" cy="68.6" r="2.5" fill="#1a9f1a"/>
<circle cx="394.68" cy="76" r="2.5" fill="#1a9f1a"/>
<circle cx="408.42" cy="78.5" r="2.5" fill="#1a9f1a"/>
<circle cx="422.16" cy="89.6" r="2.5" fill="#1a9f1a"/>
<circle cx="435.9" cy="79" r="2.5" fill="#1a9f1a"/>
<circle cx="449.64" cy="75.5" r="2.5" fill="#1a9f1a"/>
<circle cx="463.38" cy="74.8" r="2.5" fill="#1a9f1a"/>
<circle cx="477.12" cy="73.6" r="2.5" fill="#1a9f1a"/>
<circle cx="490.86" cy="71.8" r="2.5" fill="#1a9f1a"/>
<circle cx="504.6" cy="70.4" r="2.5" fill="#1a9f1a"/>
<circle cx="518.34" cy="69.2" r="2.5" fill="#1a9f1a"/>
<circle cx="532.08" cy="68.8" r="2.5" fill="#1a9f1a"/>
<polyline points="298.5,52.3 312.24,49 325.98,66.8 339.72,55.5 353.46,61.5 367.2,83.6 380.94,71 394.68,77.5 408.42,79.5 422.16,90.5 435.9,79.7 449.64,76 463.38,75.3 477.12,74.1 490.86,72.3 504.6,70.9 518.34,69.7 532.08,69.3" fill="none" stroke="#fff" stroke-opacity="0.7" stroke-width="1.5499999999999998" stroke-linejoin="round"/>
<polyline points="298.5,52.3 312.24,49 325.98,66.8 339.72,55.5 353.46,61.5 367.2,83.6 380.94,71 394.68,77.5 408.42,79.5 422.16,90.5 435.9,79.7 449.64,76 463.38,75.3 477.12,74.1 490.86,72.3 504.6,70.9 518.34,69.7 532.08,69.3" fill="none" stroke="#3a9a3a" stroke-width="0.95" stroke-linejoin="round"/>
<circle cx="298.5" cy="52.3" r="2.5" fill="#1a9f1a"/>
<circle cx="312.24" cy="49" r="2.5" fill="#1a9f1a"/>
<circle cx="325.98" cy="66.8" r="2.5" fill="#1a9f1a"/>
<circle cx="339.72" cy="55.5" r="2.5" fill="#1a9f1a"/>
<circle cx="353.46" cy="61.5" r="2.5" fill="#1a9f1a"/>
<circle cx="367.2" cy="83.6" r="2.5" fill="#1a9f1a"/>
<circle cx="380.94" cy="71" r="2.5" fill="#1a9f1a"/>
<circle cx="394.68" cy="77.5" r="2.5" fill="#1a9f1a"/>
<circle cx="408.42" cy="79.5" r="2.5" fill="#1a9f1a"/>
<circle cx="422.16" cy="90.5" r="2.5" fill="#1a9f1a"/>
<circle cx="435.9" cy="79.7" r="2.5" fill="#1a9f1a"/>
<circle cx="449.64" cy="76" r="2.5" fill="#1a9f1a"/>
<circle cx="463.38" cy="75.3" r="2.5" fill="#1a9f1a"/>
<circle cx="477.12" cy="74.1" r="2.5" fill="#1a9f1a"/>
<circle cx="490.86" cy="72.3" r="2.5" fill="#1a9f1a"/>
<circle cx="504.6" cy="70.9" r="2.5" fill="#1a9f1a"/>
<circle cx="518.34" cy="69.7" r="2.5" fill="#1a9f1a"/>
<circle cx="532.08" cy="69.3" r="2.5" fill="#1a9f1a"/>
<polyline points="298.5,52.8 312.24,50 325.98,68.2 339.72,57 353.46,62.4 367.2,86.1 380.94,73 394.68,78.5 408.42,80.5 422.16,91 435.9,80.3 449.64,76.6 463.38,75.8 477.12,74.6 490.86,72.8 504.6,71.4 518.34,70.2 532.08,69.8" fill="none" stroke="#fff" stroke-opacity="0.7" stroke-width="1.5499999999999998" stroke-linejoin="round"/>
<polyline points="298.5,52.8 312.24,50 325.98,68.2 339.72,57 353.46,62.4 367.2,86.1 380.94,73 394.68,78.5 408.42,80.5 422.16,91 435.9,80.3 449.64,76.6 463.38,75.8 477.12,74.6 490.86,72.8 504.6,71.4 518.34,70.2 532.08,69.8" fill="none" stroke="#3a9a3a" stroke-width="0.95" stroke-linejoin="round"/>
<circle cx="298.5" cy="52.8" r="2.5" fill="#1a9f1a"/>
<circle cx="312.24" cy="50" r="2.5" fill="#1a9f1a"/>
<circle cx="325.98" cy="68.2" r="2.5" fill="#1a9f1a"/>
<circle cx="339.72" cy="57" r="2.5" fill="#1a9f1a"/>
<circle cx="353.46" cy="62.4" r="2.5" fill="#1a9f1a"/>
<circle cx="367.2" cy="86.1" r="2.5" fill="#1a9f1a"/>
<circle cx="380.94" cy="73" r="2.5" fill="#1a9f1a"/>
<circle cx="394.68" cy="78.5" r="2.5" fill="#1a9f1a"/>
<circle cx="408.42" cy="80.5" r="2.5" fill="#1a9f1a"/>
<circle cx="422.16" cy="91" r="2.5" fill="#1a9f1a"/>
<circle cx="435.9" cy="80.3" r="2.5" fill="#1a9f1a"/>
<circle cx="449.64" cy="76.6" r="2.5" fill="#1a9f1a"/>
<circle cx="463.38" cy="75.8" r="2.5" fill="#1a9f1a"/>
<circle cx="477.12" cy="74.6" r="2.5" fill="#1a9f1a"/>
<circle cx="490.86" cy="72.8" r="2.5" fill="#1a9f1a"/>
<circle cx="504.6" cy="71.4" r="2.5" fill="#1a9f1a"/>
<circle cx="518.34" cy="70.2" r="2.5" fill="#1a9f1a"/>
<circle cx="532.08" cy="69.8" r="2.5" fill="#1a9f1a"/>
<polyline points="298.5,53.2 312.24,50.6 325.98,69.6 339.72,58.8 353.46,63.4 367.2,86.1 380.94,74.3 394.68,79.4 408.42,81 422.16,91.5 435.9,81 449.64,77.2 463.38,76.3 477.12,75.1 490.86,73.3 504.6,71.9 518.34,70.7 532.08,70.3" fill="none" stroke="#fff" stroke-opacity="0.7" stroke-width="1.5499999999999998" stroke-linejoin="round"/>
<polyline points="298.5,53.2 312.24,50.6 325.98,69.6 339.72,58.8 353.46,63.4 367.2,86.1 380.94,74.3 394.68,79.4 408.42,81 422.16,91.5 435.9,81 449.64,77.2 463.38,76.3 477.12,75.1 490.86,73.3 504.6,71.9 518.34,70.7 532.08,70.3" fill="none" stroke="#3a9a3a" stroke-width="0.95" stroke-linejoin="round"/>
<circle cx="298.5" cy="53.2" r="2.5" fill="#1a9f1a"/>
<circle cx="312.24" cy="50.6" r="2.5" fill="#1a9f1a"/>
<circle cx="325.98" cy="69.6" r="2.5" fill="#1a9f1a"/>
<circle cx="339.72" cy="58.8" r="2.5" fill="#1a9f1a"/>
<circle cx="353.46" cy="63.4" r="2.5" fill="#1a9f1a"/>
<circle cx="367.2" cy="86.1" r="2.5" fill="#1a9f1a"/>
<circle cx="380.94" cy="74.3" r="2.5" fill="#1a9f1a"/>
<circle cx="394.68" cy="79.4" r="2.5" fill="#1a9f1a"/>
<circle cx="408.42" cy="81" r="2.5" fill="#1a9f1a"/>
<circle cx="422.16" cy="91.5" r="2.5" fill="#1a9f1a"/>
<circle cx="435.9" cy="81" r="2.5" fill="#1a9f1a"/>
<circle cx="449.64" cy="77.2" r="2.5" fill="#1a9f1a"/>
<circle cx="463.38" cy="76.3" r="2.5" fill="#1a9f1a"/>
<circle cx="477.12" cy="75.1" r="2.5" fill="#1a9f1a"/>
<circle cx="490.86" cy="73.3" r="2.5" fill="#1a9f1a"/>
<circle cx="504.6" cy="71.9" r="2.5" fill="#1a9f1a"/>
<circle cx="518.34" cy="70.7" r="2.5" fill="#1a9f1a"/>
<circle cx="532.08" cy="70.3" r="2.5" fill="#1a9f1a"/>
<polyline points="298.5,38.6 312.24,38.9 325.98,57.2 339.72,46 353.46,51.5 367.2,94.5 380.94,65.9 394.68,67.6 408.42,72.6 422.16,95 435.9,72.8 449.64,71 463.38,72 477.12,70 490.86,67.8 504.6,66 518.34,65.4 532.08,64.2" fill="none" stroke="#fff" stroke-opacity="0.7" stroke-width="1.5499999999999998" stroke-linejoin="round"/>
<polyline points="298.5,38.6 312.24,38.9 325.98,57.2 339.72,46 353.46,51.5 367.2,94.5 380.94,65.9 394.68,67.6 408.42,72.6 422.16,95 435.9,72.8 449.64,71 463.38,72 477.12,70 490.86,67.8 504.6,66 518.34,65.4 532.08,64.2" fill="none" stroke="#cc2a1e" stroke-width="0.95" stroke-linejoin="round"/>
<circle cx="298.5" cy="38.6" r="2.5" fill="#d0100e"/>
<circle cx="312.24" cy="38.9" r="2.5" fill="#d0100e"/>
<circle cx="325.98" cy="57.2" r="2.5" fill="#d0100e"/>
<circle cx="339.72" cy="46" r="2.5" fill="#d0100e"/>
<circle cx="353.46" cy="51.5" r="2.5" fill="#d0100e"/>
<circle cx="367.2" cy="94.5" r="2.5" fill="#d0100e"/>
<circle cx="380.94" cy="65.9" r="2.5" fill="#d0100e"/>
<circle cx="394.68" cy="67.6" r="2.5" fill="#d0100e"/>
<circle cx="408.42" cy="72.6" r="2.5" fill="#d0100e"/>
<circle cx="422.16" cy="95" r="2.5" fill="#d0100e"/>
<circle cx="435.9" cy="72.8" r="2.5" fill="#d0100e"/>
<circle cx="449.64" cy="71" r="2.5" fill="#d0100e"/>
<circle cx="463.38" cy="72" r="2.5" fill="#d0100e"/>
<circle cx="477.12" cy="70" r="2.5" fill="#d0100e"/>
<circle cx="490.86" cy="67.8" r="2.5" fill="#d0100e"/>
<circle cx="504.6" cy="66" r="2.5" fill="#d0100e"/>
<circle cx="518.34" cy="65.4" r="2.5" fill="#d0100e"/>
<circle cx="532.08" cy="64.2" r="2.5" fill="#d0100e"/>
<polyline points="298.5,39.2 312.24,39.6 325.98,57.6 339.72,47.9 353.46,53.4 367.2,98 380.94,70.1 394.68,72.6 408.42,76 422.16,97.5 435.9,74.3 449.64,71.6 463.38,72.6 477.12,70.6 490.86,68.3 504.6,67 518.34,66.2 532.08,65.2" fill="none" stroke="#fff" stroke-opacity="0.7" stroke-width="1.5499999999999998" stroke-linejoin="round"/>
<polyline points="298.5,39.2 312.24,39.6 325.98,57.6 339.72,47.9 353.46,53.4 367.2,98 380.94,70.1 394.68,72.6 408.42,76 422.16,97.5 435.9,74.3 449.64,71.6 463.38,72.6 477.12,70.6 490.86,68.3 504.6,67 518.34,66.2 532.08,65.2" fill="none" stroke="#cc2a1e" stroke-width="0.95" stroke-linejoin="round"/>
<circle cx="298.5" cy="39.2" r="2.5" fill="#d0100e"/>
<circle cx="312.24" cy="39.6" r="2.5" fill="#d0100e"/>
<circle cx="325.98" cy="57.6" r="2.5" fill="#d0100e"/>
<circle cx="339.72" cy="47.9" r="2.5" fill="#d0100e"/>
<circle cx="353.46" cy="53.4" r="2.5" fill="#d0100e"/>
<circle cx="367.2" cy="98" r="2.5" fill="#d0100e"/>
<circle cx="380.94" cy="70.1" r="2.5" fill="#d0100e"/>
<circle cx="394.68" cy="72.6" r="2.5" fill="#d0100e"/>
<circle cx="408.42" cy="76" r="2.5" fill="#d0100e"/>
<circle cx="422.16" cy="97.5" r="2.5" fill="#d0100e"/>
<circle cx="435.9" cy="74.3" r="2.5" fill="#d0100e"/>
<circle cx="449.64" cy="71.6" r="2.5" fill="#d0100e"/>
<circle cx="463.38" cy="72.6" r="2.5" fill="#d0100e"/>
<circle cx="477.12" cy="70.6" r="2.5" fill="#d0100e"/>
<circle cx="490.86" cy="68.3" r="2.5" fill="#d0100e"/>
<circle cx="504.6" cy="67" r="2.5" fill="#d0100e"/>
<circle cx="518.34" cy="66.2" r="2.5" fill="#d0100e"/>
<circle cx="532.08" cy="65.2" r="2.5" fill="#d0100e"/>
<polyline points="298.5,39.8 312.24,40.2 325.98,58 339.72,48.5 353.46,54.5 367.2,102.1 380.94,71.8 394.68,74.3 408.42,77.7 422.16,100.5 435.9,75.8 449.64,72.2 463.38,73.2 477.12,71.2 490.86,68.9 504.6,67.8 518.34,67 532.08,66.2" fill="none" stroke="#fff" stroke-opacity="0.7" stroke-width="1.5499999999999998" stroke-linejoin="round"/>
<polyline points="298.5,39.8 312.24,40.2 325.98,58 339.72,48.5 353.46,54.5 367.2,102.1 380.94,71.8 394.68,74.3 408.42,77.7 422.16,100.5 435.9,75.8 449.64,72.2 463.38,73.2 477.12,71.2 490.86,68.9 504.6,67.8 518.34,67 532.08,66.2" fill="none" stroke="#cc2a1e" stroke-width="0.95" stroke-linejoin="round"/>
<circle cx="298.5" cy="39.8" r="2.5" fill="#d0100e"/>
<circle cx="312.24" cy="40.2" r="2.5" fill="#d0100e"/>
<circle cx="325.98" cy="58" r="2.5" fill="#d0100e"/>
<circle cx="339.72" cy="48.5" r="2.5" fill="#d0100e"/>
<circle cx="353.46" cy="54.5" r="2.5" fill="#d0100e"/>
<circle cx="367.2" cy="102.1" r="2.5" fill="#d0100e"/>
<circle cx="380.94" cy="71.8" r="2.5" fill="#d0100e"/>
<circle cx="394.68" cy="74.3" r="2.5" fill="#d0100e"/>
<circle cx="408.42" cy="77.7" r="2.5" fill="#d0100e"/>
<circle cx="422.16" cy="100.5" r="2.5" fill="#d0100e"/>
<circle cx="435.9" cy="75.8" r="2.5" fill="#d0100e"/>
<circle cx="449.64" cy="72.2" r="2.5" fill="#d0100e"/>
<circle cx="463.38" cy="73.2" r="2.5" fill="#d0100e"/>
<circle cx="477.12" cy="71.2" r="2.5" fill="#d0100e"/>
<circle cx="490.86" cy="68.9" r="2.5" fill="#d0100e"/>
<circle cx="504.6" cy="67.8" r="2.5" fill="#d0100e"/>
<circle cx="518.34" cy="67" r="2.5" fill="#d0100e"/>
<circle cx="532.08" cy="66.2" r="2.5" fill="#d0100e"/>
<polyline points="298.5,48.8 312.24,55.2 325.98,75.3 339.72,69.8 353.46,82.4 367.2,145.3 380.94,100.4 394.68,101.2 408.42,96.8 422.16,104.8 435.9,86.5 449.64,80 463.38,79.2 477.12,77.4 490.86,75.2 504.6,73.4 518.34,72 532.08,71.8" fill="none" stroke="#fff" stroke-opacity="0.7" stroke-width="1.5499999999999998" stroke-linejoin="round"/>
<polyline points="298.5,48.8 312.24,55.2 325.98,75.3 339.72,69.8 353.46,82.4 367.2,145.3 380.94,100.4 394.68,101.2 408.42,96.8 422.16,104.8 435.9,86.5 449.64,80 463.38,79.2 477.12,77.4 490.86,75.2 504.6,73.4 518.34,72 532.08,71.8" fill="none" stroke="#cc2a1e" stroke-width="0.95" stroke-linejoin="round"/>
<circle cx="298.5" cy="48.8" r="2.5" fill="#d0100e"/>
<circle cx="312.24" cy="55.2" r="2.5" fill="#d0100e"/>
<circle cx="325.98" cy="75.3" r="2.5" fill="#d0100e"/>
<circle cx="339.72" cy="69.8" r="2.5" fill="#d0100e"/>
<circle cx="353.46" cy="82.4" r="2.5" fill="#d0100e"/>
<circle cx="367.2" cy="145.3" r="2.5" fill="#d0100e"/>
<circle cx="380.94" cy="100.4" r="2.5" fill="#d0100e"/>
<circle cx="394.68" cy="101.2" r="2.5" fill="#d0100e"/>
<circle cx="408.42" cy="96.8" r="2.5" fill="#d0100e"/>
<circle cx="422.16" cy="104.8" r="2.5" fill="#d0100e"/>
<circle cx="435.9" cy="86.5" r="2.5" fill="#d0100e"/>
<circle cx="449.64" cy="80" r="2.5" fill="#d0100e"/>
<circle cx="463.38" cy="79.2" r="2.5" fill="#d0100e"/>
<circle cx="477.12" cy="77.4" r="2.5" fill="#d0100e"/>
<circle cx="490.86" cy="75.2" r="2.5" fill="#d0100e"/>
<circle cx="504.6" cy="73.4" r="2.5" fill="#d0100e"/>
<circle cx="518.34" cy="72" r="2.5" fill="#d0100e"/>
<circle cx="532.08" cy="71.8" r="2.5" fill="#d0100e"/>
<polyline points="298.5,141.5 312.24,163.6 325.98,190.8" fill="none" stroke="#fff" stroke-opacity="0.7" stroke-width="1.5499999999999998" stroke-linejoin="round"/>
<polyline points="298.5,141.5 312.24,163.6 325.98,190.8" fill="none" stroke="#1c9ad8" stroke-width="0.95" stroke-linejoin="round"/>
<polyline points="380.94,122.3 394.68,108.8 408.42,92.5 422.16,100.7 435.9,83.8 449.64,78 463.38,77.4 477.12,76.6 490.86,75 504.6,74 518.34,73.2 532.08,73" fill="none" stroke="#fff" stroke-opacity="0.7" stroke-width="1.5499999999999998" stroke-linejoin="round"/>
<polyline points="380.94,122.3 394.68,108.8 408.42,92.5 422.16,100.7 435.9,83.8 449.64,78 463.38,77.4 477.12,76.6 490.86,75 504.6,74 518.34,73.2 532.08,73" fill="none" stroke="#1c9ad8" stroke-width="0.95" stroke-linejoin="round"/>
<polyline points="298.5,149.2 312.24,171.3 325.98,197" fill="none" stroke="#fff" stroke-opacity="0.7" stroke-width="1.5499999999999998" stroke-linejoin="round"/>
<polyline points="298.5,149.2 312.24,171.3 325.98,197" fill="none" stroke="#1c9ad8" stroke-width="0.95" stroke-linejoin="round"/>
<polyline points="380.94,123.5 394.68,110 408.42,93.2 422.16,101.3 435.9,84.5 449.64,78.6 463.38,78 477.12,77.2 490.86,75.6 504.6,74.6 518.34,73.8 532.08,73.6" fill="none" stroke="#fff" stroke-opacity="0.7" stroke-width="1.5499999999999998" stroke-linejoin="round"/>
<polyline points="380.94,123.5 394.68,110 408.42,93.2 422.16,101.3 435.9,84.5 449.64,78.6 463.38,78 477.12,77.2 490.86,75.6 504.6,74.6 518.34,73.8 532.08,73.6" fill="none" stroke="#1c9ad8" stroke-width="0.95" stroke-linejoin="round"/>
<polyline points="298.5,151.4 312.24,178 325.98,200" fill="none" stroke="#fff" stroke-opacity="0.7" stroke-width="1.5499999999999998" stroke-linejoin="round"/>
<polyline points="298.5,151.4 312.24,178 325.98,200" fill="none" stroke="#1c9ad8" stroke-width="0.95" stroke-linejoin="round"/>
<polyline points="380.94,125 394.68,111.2 408.42,94 422.16,102 435.9,85.2 449.64,79.2 463.38,78.6 477.12,77.8 490.86,76.2 504.6,75.2 518.34,74.4 532.08,74.2" fill="none" stroke="#fff" stroke-opacity="0.7" stroke-width="1.5499999999999998" stroke-linejoin="round"/>
<polyline points="380.94,125 394.68,111.2 408.42,94 422.16,102 435.9,85.2 449.64,79.2 463.38,78.6 477.12,77.8 490.86,76.2 504.6,75.2 518.34,74.4 532.08,74.2" fill="none" stroke="#1c9ad8" stroke-width="0.95" stroke-linejoin="round"/>
<circle cx="298.5" cy="141.5" r="2.5" fill="#1c9ad8"/>
<circle cx="312.24" cy="163.6" r="2.5" fill="#1c9ad8"/>
<circle cx="380.94" cy="122.3" r="2.5" fill="#1c9ad8"/>
<circle cx="394.68" cy="108.8" r="2.5" fill="#1c9ad8"/>
<circle cx="408.42" cy="92.5" r="2.5" fill="#1c9ad8"/>
<circle cx="422.16" cy="100.7" r="2.5" fill="#1c9ad8"/>
<circle cx="435.9" cy="83.8" r="2.5" fill="#1c9ad8"/>
<circle cx="449.64" cy="78" r="2.5" fill="#1c9ad8"/>
<circle cx="463.38" cy="77.4" r="2.5" fill="#1c9ad8"/>
<circle cx="477.12" cy="76.6" r="2.5" fill="#1c9ad8"/>
<circle cx="490.86" cy="75" r="2.5" fill="#1c9ad8"/>
<circle cx="504.6" cy="74" r="2.5" fill="#1c9ad8"/>
<circle cx="518.34" cy="73.2" r="2.5" fill="#1c9ad8"/>
<circle cx="532.08" cy="73" r="2.5" fill="#1c9ad8"/>
<circle cx="298.5" cy="149.2" r="2.5" fill="#1c9ad8"/>
<circle cx="312.24" cy="171.3" r="2.5" fill="#1c9ad8"/>
<circle cx="380.94" cy="123.5" r="2.5" fill="#1c9ad8"/>
<circle cx="394.68" cy="110" r="2.5" fill="#1c9ad8"/>
<circle cx="408.42" cy="93.2" r="2.5" fill="#1c9ad8"/>
<circle cx="422.16" cy="101.3" r="2.5" fill="#1c9ad8"/>
<circle cx="435.9" cy="84.5" r="2.5" fill="#1c9ad8"/>
<circle cx="449.64" cy="78.6" r="2.5" fill="#1c9ad8"/>
<circle cx="463.38" cy="78" r="2.5" fill="#1c9ad8"/>
<circle cx="477.12" cy="77.2" r="2.5" fill="#1c9ad8"/>
<circle cx="490.86" cy="75.6" r="2.5" fill="#1c9ad8"/>
<circle cx="504.6" cy="74.6" r="2.5" fill="#1c9ad8"/>
<circle cx="518.34" cy="73.8" r="2.5" fill="#1c9ad8"/>
<circle cx="532.08" cy="73.6" r="2.5" fill="#1c9ad8"/>
<circle cx="298.5" cy="151.4" r="2.5" fill="#1c9ad8"/>
<circle cx="312.24" cy="178" r="2.5" fill="#1c9ad8"/>
<circle cx="380.94" cy="125" r="2.5" fill="#1c9ad8"/>
<circle cx="394.68" cy="111.2" r="2.5" fill="#1c9ad8"/>
<circle cx="408.42" cy="94" r="2.5" fill="#1c9ad8"/>
<circle cx="422.16" cy="102" r="2.5" fill="#1c9ad8"/>
<circle cx="435.9" cy="85.2" r="2.5" fill="#1c9ad8"/>
<circle cx="449.64" cy="79.2" r="2.5" fill="#1c9ad8"/>
<circle cx="463.38" cy="78.6" r="2.5" fill="#1c9ad8"/>
<circle cx="477.12" cy="77.8" r="2.5" fill="#1c9ad8"/>
<circle cx="490.86" cy="76.2" r="2.5" fill="#1c9ad8"/>
<circle cx="504.6" cy="75.2" r="2.5" fill="#1c9ad8"/>
<circle cx="518.34" cy="74.4" r="2.5" fill="#1c9ad8"/>
<circle cx="532.08" cy="74.2" r="2.5" fill="#1c9ad8"/>
<polyline points="298.5,105 312.24,121.1 325.98,130.4 339.72,141" fill="none" stroke="#0e0e0e" stroke-width="0.95" stroke-linejoin="round"/>
<polyline points="367.2,175.8 380.94,127.3 394.68,116.5 408.42,99.7 422.16,109 435.9,89.6 449.64,81.5 463.38,80.6 477.12,78.2 490.86,76.5 504.6,75 518.34,73 532.08,73.2" fill="none" stroke="#0e0e0e" stroke-width="0.95" stroke-linejoin="round"/>
<circle cx="298.5" cy="105" r="2.5" fill="#0e0e0e"/>
<circle cx="312.24" cy="121.1" r="2.5" fill="#0e0e0e"/>
<circle cx="325.98" cy="130.4" r="2.5" fill="#0e0e0e"/>
<circle cx="339.72" cy="141" r="2.5" fill="#0e0e0e"/>
<circle cx="367.2" cy="175.8" r="2.5" fill="#0e0e0e"/>
<circle cx="380.94" cy="127.3" r="2.5" fill="#0e0e0e"/>
<circle cx="394.68" cy="116.5" r="2.5" fill="#0e0e0e"/>
<circle cx="408.42" cy="99.7" r="2.5" fill="#0e0e0e"/>
<circle cx="422.16" cy="109" r="2.5" fill="#0e0e0e"/>
<circle cx="435.9" cy="89.6" r="2.5" fill="#0e0e0e"/>
<circle cx="449.64" cy="81.5" r="2.5" fill="#0e0e0e"/>
<circle cx="463.38" cy="80.6" r="2.5" fill="#0e0e0e"/>
<circle cx="477.12" cy="78.2" r="2.5" fill="#0e0e0e"/>
<circle cx="490.86" cy="76.5" r="2.5" fill="#0e0e0e"/>
<circle cx="504.6" cy="75" r="2.5" fill="#0e0e0e"/>
<circle cx="518.34" cy="73" r="2.5" fill="#0e0e0e"/>
<circle cx="532.08" cy="73.2" r="2.5" fill="#0e0e0e"/>
<polyline points="298.5,110.5 312.24,130.4 325.98,144.8 339.72,154.7" fill="none" stroke="#0e0e0e" stroke-width="0.95" stroke-linejoin="round"/>
<polyline points="367.2,178 380.94,128.5 394.68,117.3 408.42,100.5 422.16,109.4 435.9,90.1 449.64,82 463.38,81.1 477.12,78.7 490.86,77 504.6,75.5 518.34,73.6 532.08,74.2" fill="none" stroke="#0e0e0e" stroke-width="0.95" stroke-linejoin="round"/>
<circle cx="298.5" cy="110.5" r="2.5" fill="#0e0e0e"/>
<circle cx="312.24" cy="130.4" r="2.5" fill="#0e0e0e"/>
<circle cx="325.98" cy="144.8" r="2.5" fill="#0e0e0e"/>
<circle cx="339.72" cy="154.7" r="2.5" fill="#0e0e0e"/>
<circle cx="367.2" cy="178" r="2.5" fill="#0e0e0e"/>
<circle cx="380.94" cy="128.5" r="2.5" fill="#0e0e0e"/>
<circle cx="394.68" cy="117.3" r="2.5" fill="#0e0e0e"/>
<circle cx="408.42" cy="100.5" r="2.5" fill="#0e0e0e"/>
<circle cx="422.16" cy="109.4" r="2.5" fill="#0e0e0e"/>
<circle cx="435.9" cy="90.1" r="2.5" fill="#0e0e0e"/>
<circle cx="449.64" cy="82" r="2.5" fill="#0e0e0e"/>
<circle cx="463.38" cy="81.1" r="2.5" fill="#0e0e0e"/>
<circle cx="477.12" cy="78.7" r="2.5" fill="#0e0e0e"/>
<circle cx="490.86" cy="77" r="2.5" fill="#0e0e0e"/>
<circle cx="504.6" cy="75.5" r="2.5" fill="#0e0e0e"/>
<circle cx="518.34" cy="73.6" r="2.5" fill="#0e0e0e"/>
<circle cx="532.08" cy="74.2" r="2.5" fill="#0e0e0e"/>
<polyline points="298.5,112.7 312.24,132.6 325.98,147 339.72,157" fill="none" stroke="#0e0e0e" stroke-width="0.95" stroke-linejoin="round"/>
<polyline points="367.2,181 380.94,130 394.68,118 408.42,101.3 422.16,109.8 435.9,90.6 449.64,82.5 463.38,81.6 477.12,79.2 490.86,77.5 504.6,76 518.34,74.2 532.08,75.2" fill="none" stroke="#0e0e0e" stroke-width="0.95" stroke-linejoin="round"/>
<circle cx="298.5" cy="112.7" r="2.5" fill="#0e0e0e"/>
<circle cx="312.24" cy="132.6" r="2.5" fill="#0e0e0e"/>
<circle cx="325.98" cy="147" r="2.5" fill="#0e0e0e"/>
<circle cx="339.72" cy="157" r="2.5" fill="#0e0e0e"/>
<circle cx="367.2" cy="181" r="2.5" fill="#0e0e0e"/>
<circle cx="380.94" cy="130" r="2.5" fill="#0e0e0e"/>
<circle cx="394.68" cy="118" r="2.5" fill="#0e0e0e"/>
<circle cx="408.42" cy="101.3" r="2.5" fill="#0e0e0e"/>
<circle cx="422.16" cy="109.8" r="2.5" fill="#0e0e0e"/>
<circle cx="435.9" cy="90.6" r="2.5" fill="#0e0e0e"/>
<circle cx="449.64" cy="82.5" r="2.5" fill="#0e0e0e"/>
<circle cx="463.38" cy="81.6" r="2.5" fill="#0e0e0e"/>
<circle cx="477.12" cy="79.2" r="2.5" fill="#0e0e0e"/>
<circle cx="490.86" cy="77.5" r="2.5" fill="#0e0e0e"/>
<circle cx="504.6" cy="76" r="2.5" fill="#0e0e0e"/>
<circle cx="518.34" cy="74.2" r="2.5" fill="#0e0e0e"/>
<circle cx="532.08" cy="75.2" r="2.5" fill="#0e0e0e"/>
<polyline points="298.5,114.5 312.24,134.8 325.98,150.3 339.72,159.2" fill="none" stroke="#0e0e0e" stroke-width="0.95" stroke-linejoin="round"/>
<polyline points="367.2,184 380.94,131.5 394.68,118.8 408.42,102.1 422.16,110.2 435.9,91.1 449.64,83 463.38,82.1 477.12,79.7 490.86,78 504.6,76.5 518.34,74.8 532.08,76.2" fill="none" stroke="#0e0e0e" stroke-width="0.95" stroke-linejoin="round"/>
<circle cx="298.5" cy="114.5" r="2.5" fill="#0e0e0e"/>
<circle cx="312.24" cy="134.8" r="2.5" fill="#0e0e0e"/>
<circle cx="325.98" cy="150.3" r="2.5" fill="#0e0e0e"/>
<circle cx="339.72" cy="159.2" r="2.5" fill="#0e0e0e"/>
<circle cx="367.2" cy="184" r="2.5" fill="#0e0e0e"/>
<circle cx="380.94" cy="131.5" r="2.5" fill="#0e0e0e"/>
<circle cx="394.68" cy="118.8" r="2.5" fill="#0e0e0e"/>
<circle cx="408.42" cy="102.1" r="2.5" fill="#0e0e0e"/>
<circle cx="422.16" cy="110.2" r="2.5" fill="#0e0e0e"/>
<circle cx="435.9" cy="91.1" r="2.5" fill="#0e0e0e"/>
<circle cx="449.64" cy="83" r="2.5" fill="#0e0e0e"/>
<circle cx="463.38" cy="82.1" r="2.5" fill="#0e0e0e"/>
<circle cx="477.12" cy="79.7" r="2.5" fill="#0e0e0e"/>
<circle cx="490.86" cy="78" r="2.5" fill="#0e0e0e"/>
<circle cx="504.6" cy="76.5" r="2.5" fill="#0e0e0e"/>
<circle cx="518.34" cy="74.8" r="2.5" fill="#0e0e0e"/>
<circle cx="532.08" cy="76.2" r="2.5" fill="#0e0e0e"/>
<polyline points="298.5,116 312.24,135.9 325.98,152.5 339.72,164.7" fill="none" stroke="#0e0e0e" stroke-width="0.95" stroke-linejoin="round"/>
<polyline points="367.2,185.7 380.94,133.6 394.68,119.5 408.42,103 422.16,110.6 435.9,91.6 449.64,83.5 463.38,82.6 477.12,80.2 490.86,78.5 504.6,77 518.34,75.4 532.08,77" fill="none" stroke="#0e0e0e" stroke-width="0.95" stroke-linejoin="round"/>
<circle cx="298.5" cy="116" r="2.5" fill="#0e0e0e"/>
<circle cx="312.24" cy="135.9" r="2.5" fill="#0e0e0e"/>
<circle cx="325.98" cy="152.5" r="2.5" fill="#0e0e0e"/>
<circle cx="339.72" cy="164.7" r="2.5" fill="#0e0e0e"/>
<circle cx="367.2" cy="185.7" r="2.5" fill="#0e0e0e"/>
<circle cx="380.94" cy="133.6" r="2.5" fill="#0e0e0e"/>
<circle cx="394.68" cy="119.5" r="2.5" fill="#0e0e0e"/>
<circle cx="408.42" cy="103" r="2.5" fill="#0e0e0e"/>
<circle cx="422.16" cy="110.6" r="2.5" fill="#0e0e0e"/>
<circle cx="435.9" cy="91.6" r="2.5" fill="#0e0e0e"/>
<circle cx="449.64" cy="83.5" r="2.5" fill="#0e0e0e"/>
<circle cx="463.38" cy="82.6" r="2.5" fill="#0e0e0e"/>
<circle cx="477.12" cy="80.2" r="2.5" fill="#0e0e0e"/>
<circle cx="490.86" cy="78.5" r="2.5" fill="#0e0e0e"/>
<circle cx="504.6" cy="77" r="2.5" fill="#0e0e0e"/>
<circle cx="518.34" cy="75.4" r="2.5" fill="#0e0e0e"/>
<circle cx="532.08" cy="77" r="2.5" fill="#0e0e0e"/>
</g>
<path d="M285,35.89h2 M285,27.76h2 M285,21.98h2 M285,17.51h2 M285,13.85h2 M285,10.76h2 M285,8.08h2 M285,5.71h2 M285,49.8h3 M285,82.09h2 M285,73.96h2 M285,68.18h2 M285,63.71h2 M285,60.05h2 M285,56.96h2 M285,54.28h2 M285,51.91h2 M285,96h3 M285,127.94h2 M285,119.9h2 M285,114.19h2 M285,109.76h2 M285,106.14h2 M285,103.08h2 M285,100.43h2 M285,98.09h2 M285,141.7h3 M285,173.64h2 M285,165.6h2 M285,159.89h2 M285,155.46h2 M285,151.84h2 M285,148.78h2 M285,146.13h2 M285,143.79h2 M298.5,187.9v-2.2 M312.24,187.9v-2.2 M325.98,187.9v-2.2 M339.72,187.9v-2.2 M353.46,187.9v-2.2 M367.2,187.9v-2.2 M380.94,187.9v-2.2 M394.68,187.9v-2.2 M408.42,187.9v-2.2 M422.16,187.9v-2.2 M435.9,187.9v-2.2 M449.64,187.9v-2.2 M463.38,187.9v-2.2 M477.12,187.9v-2.2 M490.86,187.9v-2.2 M504.6,187.9v-2.2 M518.34,187.9v-2.2 M532.08,187.9v-2.2" stroke="#10145a" stroke-width="1" fill="none"/>
<line x1="285" y1="4.2" x2="546" y2="4.2" stroke="#2a3468" stroke-width="1.8"/>
<line x1="546" y1="4.2" x2="546" y2="187.9" stroke="#50577f" stroke-width="2.0"/>
<line x1="285" y1="187.9" x2="546.8" y2="187.9" stroke="#363f7e" stroke-width="1.5"/>
<line x1="285" y1="3.4" x2="285" y2="188.6" stroke="#25306e" stroke-width="1.9"/>
<text x="275.6" y="7.2" text-anchor="end" class="ax">100</text>
<text x="275.6" y="53.4" text-anchor="end" class="ax">10</text>
<text x="275.6" y="99.6" text-anchor="end" class="ax">1</text>
<text x="275.6" y="145.3" text-anchor="end" class="ax">0.1</text>
<text x="275.6" y="191" text-anchor="end" class="ax">0.01</text>
<text x="298" y="200.2" text-anchor="middle" class="ax" style="font-size:7.6px">La</text>
<text x="311.74" y="200.2" text-anchor="middle" class="ax" style="font-size:7.6px">Ce</text>
<text x="325.48" y="200.2" text-anchor="middle" class="ax" style="font-size:7.6px">Sr</text>
<text x="339.22" y="200.2" text-anchor="middle" class="ax" style="font-size:7.6px">Pr</text>
<text x="352.96" y="200.2" text-anchor="middle" class="ax" style="font-size:7.6px">Nd</text>
<text x="366.7" y="200.2" text-anchor="middle" class="ax" style="font-size:7.6px">Zr</text>
<text x="380.44" y="200.2" text-anchor="middle" class="ax" style="font-size:7.6px">Sm</text>
<text x="394.18" y="200.2" text-anchor="middle" class="ax" style="font-size:7.6px">Eu</text>
<text x="407.92" y="200.2" text-anchor="middle" class="ax" style="font-size:7.6px">Gd</text>
<text x="421.66" y="200.2" text-anchor="middle" class="ax" style="font-size:7.6px">Ti</text>
<text x="435.4" y="200.2" text-anchor="middle" class="ax" style="font-size:7.6px">Tb</text>
<text x="449.14" y="200.2" text-anchor="middle" class="ax" style="font-size:7.6px">Dy</text>
<text x="462.88" y="200.2" text-anchor="middle" class="ax" style="font-size:7.6px">Y</text>
<text x="476.62" y="200.2" text-anchor="middle" class="ax" style="font-size:7.6px">Ho</text>
<text x="490.36" y="200.2" text-anchor="middle" class="ax" style="font-size:7.6px">Er</text>
<text x="504.1" y="200.2" text-anchor="middle" class="ax" style="font-size:7.6px">Tm</text>
<text x="517.84" y="200.2" text-anchor="middle" class="ax" style="font-size:7.6px">Yb</text>
<text x="531.58" y="200.2" text-anchor="middle" class="ax" style="font-size:7.6px">Lu</text>
<text x="290.1" y="14.7" class="ti">Cpx/Chondrite</text>
<rect x="406" y="118.8" width="136.4" height="62.7" fill="#fff" stroke="#333" stroke-width="0.9"/>
<text x="415" y="131.2" class="lg">Phl-bearing</text>
<text x="415" y="140.3" class="lg">lherzolite</text>
<text x="482.6" y="131.2" class="lg">Phl-free</text>
<text x="482.6" y="140.3" class="lg">lherzolite</text>
<line x1="420.3" y1="149.8" x2="435.3" y2="149.8" stroke="#1e7a1e" stroke-width="1.1"/>
<circle cx="427.8" cy="149.8" r="2.7" fill="#1e7a1e"/>
<text x="448.0" y="152.20000000000002" class="lt">IZS-4</text>
<line x1="420.3" y1="162.4" x2="435.3" y2="162.4" stroke="#888" stroke-width="1.1"/>
<circle cx="427.8" cy="162.4" r="2.4" fill="#fff" stroke="#555" stroke-width="0.9"/>
<text x="448.0" y="164.8" class="lt">IZS-12</text>
<line x1="420.3" y1="175.2" x2="435.3" y2="175.2" stroke="#36198c" stroke-width="1.3"/>
<text x="448.0" y="177.6" class="lt">IZS-13</text>
<line x1="489.3" y1="149.8" x2="504.3" y2="149.8" stroke="#111" stroke-width="1.1"/>
<circle cx="496.8" cy="149.8" r="2.7" fill="#111"/>
<text x="514.2" y="152.20000000000002" class="lt">IZS-1</text>
<line x1="489.3" y1="162.6" x2="504.3" y2="162.6" stroke="#cc1111" stroke-width="1.1"/>
<circle cx="496.8" cy="162.6" r="2.7" fill="#cc1111"/>
<text x="514.2" y="165.0" class="lt">IZS-3</text>
<line x1="489.3" y1="175.1" x2="504.3" y2="175.1" stroke="#1f9ad8" stroke-width="1.1"/>
<circle cx="496.8" cy="175.1" r="2.7" fill="#1f9ad8"/>
<text x="514.2" y="177.5" class="lt">IZS-6</text>
<line x1="25.7" y1="260" x2="257.9" y2="260" stroke="#c8c8c8" stroke-width="1.3"/>
<line x1="25.7" y1="305.5" x2="257.9" y2="305.5" stroke="#c8c8c8" stroke-width="1.3"/>
<line x1="25.7" y1="351" x2="257.9" y2="351" stroke="#c8c8c8" stroke-width="1.3"/>
<polyline points="41.3,343.1 56.76,333 72.22,330 87.68,327 103.14,322.1 118.6,322.3 134.06,321.5 149.52,317.6 164.98,313.3 180.44,310.5 195.9,306.8 211.36,300.7 226.82,295.3 242.28,292.9" fill="none" stroke="#fff" stroke-opacity="0.7" stroke-width="1.5499999999999998" stroke-linejoin="round"/>
<polyline points="41.3,343.1 56.76,333 72.22,330 87.68,327 103.14,322.1 118.6,322.3 134.06,321.5 149.52,317.6 164.98,313.3 180.44,310.5 195.9,306.8 211.36,300.7 226.82,295.3 242.28,292.9" fill="none" stroke="#5e5e5e" stroke-width="0.95" stroke-linejoin="round"/>
<circle cx="41.3" cy="343.1" r="2.05" fill="#fff" stroke="#333333" stroke-width="1.05"/>
<circle cx="56.76" cy="333" r="2.05" fill="#fff" stroke="#333333" stroke-width="1.05"/>
<circle cx="72.22" cy="330" r="2.05" fill="#fff" stroke="#333333" stroke-width="1.05"/>
<circle cx="87.68" cy="327" r="2.05" fill="#fff" stroke="#333333" stroke-width="1.05"/>
<circle cx="103.14" cy="322.1" r="2.05" fill="#fff" stroke="#333333" stroke-width="1.05"/>
<circle cx="118.6" cy="322.3" r="2.05" fill="#fff" stroke="#333333" stroke-width="1.05"/>
<circle cx="134.06" cy="321.5" r="2.05" fill="#fff" stroke="#333333" stroke-width="1.05"/>
<circle cx="149.52" cy="317.6" r="2.05" fill="#fff" stroke="#333333" stroke-width="1.05"/>
<circle cx="164.98" cy="313.3" r="2.05" fill="#fff" stroke="#333333" stroke-width="1.05"/>
<circle cx="180.44" cy="310.5" r="2.05" fill="#fff" stroke="#333333" stroke-width="1.05"/>
<circle cx="195.9" cy="306.8" r="2.05" fill="#fff" stroke="#333333" stroke-width="1.05"/>
<circle cx="211.36" cy="300.7" r="2.05" fill="#fff" stroke="#333333" stroke-width="1.05"/>
<circle cx="226.82" cy="295.3" r="2.05" fill="#fff" stroke="#333333" stroke-width="1.05"/>
<circle cx="242.28" cy="292.9" r="2.05" fill="#fff" stroke="#333333" stroke-width="1.05"/>
<polyline points="41.3,352.3 56.76,342.2 72.22,336.3 87.68,331.2 103.14,326.1 118.6,323 134.06,322.5 149.52,318.5 164.98,314.2 180.44,313 195.9,308.2 211.36,302.4 226.82,296.8 242.28,294.3" fill="none" stroke="#fff" stroke-opacity="0.7" stroke-width="1.5499999999999998" stroke-linejoin="round"/>
<polyline points="41.3,352.3 56.76,342.2 72.22,336.3 87.68,331.2 103.14,326.1 118.6,323 134.06,322.5 149.52,318.5 164.98,314.2 180.44,313 195.9,308.2 211.36,302.4 226.82,296.8 242.28,294.3" fill="none" stroke="#5e5e5e" stroke-width="0.95" stroke-linejoin="round"/>
<circle cx="41.3" cy="352.3" r="2.05" fill="#fff" stroke="#333333" stroke-width="1.05"/>
<circle cx="56.76" cy="342.2" r="2.05" fill="#fff" stroke="#333333" stroke-width="1.05"/>
<circle cx="72.22" cy="336.3" r="2.05" fill="#fff" stroke="#333333" stroke-width="1.05"/>
<circle cx="87.68" cy="331.2" r="2.05" fill="#fff" stroke="#333333" stroke-width="1.05"/>
<circle cx="103.14" cy="326.1" r="2.05" fill="#fff" stroke="#333333" stroke-width="1.05"/>
<circle cx="118.6" cy="323" r="2.05" fill="#fff" stroke="#333333" stroke-width="1.05"/>
<circle cx="134.06" cy="322.5" r="2.05" fill="#fff" stroke="#333333" stroke-width="1.05"/>
<circle cx="149.52" cy="318.5" r="2.05" fill="#fff" stroke="#333333" stroke-width="1.05"/>
<circle cx="164.98" cy="314.2" r="2.05" fill="#fff" stroke="#333333" stroke-width="1.05"/>
<circle cx="180.44" cy="313" r="2.05" fill="#fff" stroke="#333333" stroke-width="1.05"/>
<circle cx="195.9" cy="308.2" r="2.05" fill="#fff" stroke="#333333" stroke-width="1.05"/>
<circle cx="211.36" cy="302.4" r="2.05" fill="#fff" stroke="#333333" stroke-width="1.05"/>
<circle cx="226.82" cy="296.8" r="2.05" fill="#fff" stroke="#333333" stroke-width="1.05"/>
<circle cx="242.28" cy="294.3" r="2.05" fill="#fff" stroke="#333333" stroke-width="1.05"/>
<polyline points="41.3,356.1 56.76,337.6 72.22,332.3 87.68,327.4 103.14,322.2 118.6,319.2 134.06,318.5 149.52,315 164.98,310.3 180.44,307.3 195.9,303.2 211.36,298.8 226.82,295.3 242.28,291.6" fill="none" stroke="#fff" stroke-opacity="0.7" stroke-width="1.9" stroke-linejoin="round"/>
<polyline points="41.3,356.1 56.76,337.6 72.22,332.3 87.68,327.4 103.14,322.2 118.6,319.2 134.06,318.5 149.52,315 164.98,310.3 180.44,307.3 195.9,303.2 211.36,298.8 226.82,295.3 242.28,291.6" fill="none" stroke="#36198c" stroke-width="1.3" stroke-linejoin="round"/>
<polyline points="41.3,355.6 56.76,338.6 72.22,333.8 87.68,328.6 103.14,321.4 118.6,318.4 134.06,317.6 149.52,314 164.98,309.3 180.44,306.3 195.9,302.2 211.36,297.8 226.82,294.3 242.28,290.6" fill="none" stroke="#36198c" stroke-width="1.3" stroke-linejoin="round"/>
<polyline points="41.3,378 56.76,368 72.22,364.4 87.68,367 103.14,361.6 118.6,371.6 134.06,351.4 149.52,349 164.98,333.2 180.44,327.3 195.9,318 211.36,310.5 226.82,305 242.28,301.5" fill="none" stroke="#fff" stroke-opacity="0.7" stroke-width="1.5499999999999998" stroke-linejoin="round"/>
<polyline points="41.3,378 56.76,368 72.22,364.4 87.68,367 103.14,361.6 118.6,371.6 134.06,351.4 149.52,349 164.98,333.2 180.44,327.3 195.9,318 211.36,310.5 226.82,305 242.28,301.5" fill="none" stroke="#3a9a3a" stroke-width="0.95" stroke-linejoin="round"/>
<circle cx="41.3" cy="378" r="2.5" fill="#1a9f1a"/>
<circle cx="56.76" cy="368" r="2.5" fill="#1a9f1a"/>
<circle cx="72.22" cy="364.4" r="2.5" fill="#1a9f1a"/>
<circle cx="87.68" cy="367" r="2.5" fill="#1a9f1a"/>
<circle cx="103.14" cy="361.6" r="2.5" fill="#1a9f1a"/>
<circle cx="118.6" cy="371.6" r="2.5" fill="#1a9f1a"/>
<circle cx="134.06" cy="351.4" r="2.5" fill="#1a9f1a"/>
<circle cx="149.52" cy="349" r="2.5" fill="#1a9f1a"/>
<circle cx="164.98" cy="333.2" r="2.5" fill="#1a9f1a"/>
<circle cx="180.44" cy="327.3" r="2.5" fill="#1a9f1a"/>
<circle cx="195.9" cy="318" r="2.5" fill="#1a9f1a"/>
<circle cx="211.36" cy="310.5" r="2.5" fill="#1a9f1a"/>
<circle cx="226.82" cy="305" r="2.5" fill="#1a9f1a"/>
<circle cx="242.28" cy="301.5" r="2.5" fill="#1a9f1a"/>
<polyline points="56.76,367 72.22,367 87.68,363.6 103.14,360" fill="none" stroke="#fff" stroke-opacity="0.7" stroke-width="1.5499999999999998" stroke-linejoin="round"/>
<polyline points="56.76,367 72.22,367 87.68,363.6 103.14,360" fill="none" stroke="#3a9a3a" stroke-width="0.95" stroke-linejoin="round"/>
<circle cx="56.76" cy="367" r="2.5" fill="#1a9f1a"/>
<circle cx="72.22" cy="367" r="2.5" fill="#1a9f1a"/>
<circle cx="87.68" cy="363.6" r="2.5" fill="#1a9f1a"/>
<circle cx="103.14" cy="360" r="2.5" fill="#1a9f1a"/>
<polyline points="134.06,366.2 149.52,350.4 164.98,338.6 180.44,330 195.9,321 211.36,309.7 226.82,304.8 242.28,302.2" fill="none" stroke="#fff" stroke-opacity="0.7" stroke-width="1.5499999999999998" stroke-linejoin="round"/>
<polyline points="134.06,366.2 149.52,350.4 164.98,338.6 180.44,330 195.9,321 211.36,309.7 226.82,304.8 242.28,302.2" fill="none" stroke="#1c9ad8" stroke-width="0.95" stroke-linejoin="round"/>
<circle cx="134.06" cy="366.2" r="2.5" fill="#1c9ad8"/>
<circle cx="149.52" cy="350.4" r="2.5" fill="#1c9ad8"/>
<circle cx="164.98" cy="338.6" r="2.5" fill="#1c9ad8"/>
<circle cx="180.44" cy="330" r="2.5" fill="#1c9ad8"/>
<circle cx="195.9" cy="321" r="2.5" fill="#1c9ad8"/>
<circle cx="211.36" cy="309.7" r="2.5" fill="#1c9ad8"/>
<circle cx="226.82" cy="304.8" r="2.5" fill="#1c9ad8"/>
<circle cx="242.28" cy="302.2" r="2.5" fill="#1c9ad8"/>
<polyline points="134.06,370.2 149.52,356" fill="none" stroke="#fff" stroke-opacity="0.7" stroke-width="1.5499999999999998" stroke-linejoin="round"/>
<polyline points="134.06,370.2 149.52,356" fill="none" stroke="#1c9ad8" stroke-width="0.95" stroke-linejoin="round"/>
<circle cx="134.06" cy="369" r="2.5" fill="#1c9ad8"/>
<polyline points="41.3,345.6 56.76,353 72.22,368 87.68,367 103.14,366 118.6,358 134.06,354.6 149.52,344.8 164.98,343.1 180.44,333.5 195.9,327 211.36,318.7 226.82,312.2 242.28,307.3" fill="none" stroke="#fff" stroke-opacity="0.7" stroke-width="1.5499999999999998" stroke-linejoin="round"/>
<polyline points="41.3,345.6 56.76,353 72.22,368 87.68,367 103.14,366 118.6,358 134.06,354.6 149.52,344.8 164.98,343.1 180.44,333.5 195.9,327 211.36,318.7 226.82,312.2 242.28,307.3" fill="none" stroke="#cc2a1e" stroke-width="0.95" stroke-linejoin="round"/>
<circle cx="41.3" cy="345.6" r="2.5" fill="#d0100e"/>
<circle cx="56.76" cy="353" r="2.5" fill="#d0100e"/>
<circle cx="72.22" cy="368" r="2.5" fill="#d0100e"/>
<circle cx="87.68" cy="367" r="2.5" fill="#d0100e"/>
<circle cx="103.14" cy="366" r="2.5" fill="#d0100e"/>
<circle cx="118.6" cy="358" r="2.5" fill="#d0100e"/>
<circle cx="134.06" cy="354.6" r="2.5" fill="#d0100e"/>
<circle cx="149.52" cy="344.8" r="2.5" fill="#d0100e"/>
<circle cx="164.98" cy="343.1" r="2.5" fill="#d0100e"/>
<circle cx="180.44" cy="333.5" r="2.5" fill="#d0100e"/>
<circle cx="195.9" cy="327" r="2.5" fill="#d0100e"/>
<circle cx="211.36" cy="318.7" r="2.5" fill="#d0100e"/>
<circle cx="226.82" cy="312.2" r="2.5" fill="#d0100e"/>
<circle cx="242.28" cy="307.3" r="2.5" fill="#d0100e"/>
<polyline points="41.3,375 56.76,364.4 72.22,363" fill="none" stroke="#fff" stroke-opacity="0.7" stroke-width="1.5499999999999998" stroke-linejoin="round"/>
<polyline points="41.3,375 56.76,364.4 72.22,363" fill="none" stroke="#cc2a1e" stroke-width="0.95" stroke-linejoin="round"/>
<circle cx="41.3" cy="375" r="2.5" fill="#d0100e"/>
<circle cx="56.76" cy="364.4" r="2.5" fill="#d0100e"/>
<circle cx="72.22" cy="363" r="2.5" fill="#d0100e"/>
<polyline points="41.3,386 56.76,380 72.22,381.6" fill="none" stroke="#fff" stroke-opacity="0.7" stroke-width="1.5499999999999998" stroke-linejoin="round"/>
<polyline points="41.3,386 56.76,380 72.22,381.6" fill="none" stroke="#cc2a1e" stroke-width="0.95" stroke-linejoin="round"/>
<circle cx="41.3" cy="386" r="2.5" fill="#d0100e"/>
<circle cx="56.76" cy="380" r="2.5" fill="#d0100e"/>
<circle cx="72.22" cy="381.6" r="2.5" fill="#d0100e"/>
<polyline points="164.98,345.5 180.44,334.5 195.9,328 211.36,319.8 226.82,312.8 242.28,308.2" fill="none" stroke="#fff" stroke-opacity="0.7" stroke-width="1.5499999999999998" stroke-linejoin="round"/>
<polyline points="164.98,345.5 180.44,334.5 195.9,328 211.36,319.8 226.82,312.8 242.28,308.2" fill="none" stroke="#cc2a1e" stroke-width="0.95" stroke-linejoin="round"/>
<circle cx="164.98" cy="345.5" r="2.5" fill="#d0100e"/>
<circle cx="180.44" cy="334.5" r="2.5" fill="#d0100e"/>
<circle cx="195.9" cy="328" r="2.5" fill="#d0100e"/>
<circle cx="211.36" cy="319.8" r="2.5" fill="#d0100e"/>
<circle cx="226.82" cy="312.8" r="2.5" fill="#d0100e"/>
<circle cx="242.28" cy="308.2" r="2.5" fill="#d0100e"/>
<polyline points="164.98,347.7 180.44,336 195.9,329 211.36,321 226.82,313.5 242.28,309" fill="none" stroke="#fff" stroke-opacity="0.7" stroke-width="1.5499999999999998" stroke-linejoin="round"/>
<polyline points="164.98,347.7 180.44,336 195.9,329 211.36,321 226.82,313.5 242.28,309" fill="none" stroke="#cc2a1e" stroke-width="0.95" stroke-linejoin="round"/>
<circle cx="164.98" cy="347.7" r="2.5" fill="#d0100e"/>
<circle cx="180.44" cy="336" r="2.5" fill="#d0100e"/>
<circle cx="195.9" cy="329" r="2.5" fill="#d0100e"/>
<circle cx="211.36" cy="321" r="2.5" fill="#d0100e"/>
<circle cx="226.82" cy="313.5" r="2.5" fill="#d0100e"/>
<circle cx="242.28" cy="309" r="2.5" fill="#d0100e"/>
<polyline points="149.52,355 164.98,339.8 180.44,331.2 195.9,322.5 211.36,314.6 226.82,308 242.28,304" fill="none" stroke="#fff" stroke-opacity="0.7" stroke-width="1.5499999999999998" stroke-linejoin="round"/>
<polyline points="149.52,355 164.98,339.8 180.44,331.2 195.9,322.5 211.36,314.6 226.82,308 242.28,304" fill="none" stroke="#0e0e0e" stroke-width="0.95" stroke-linejoin="round"/>
<circle cx="149.52" cy="355" r="2.5" fill="#0e0e0e"/>
<circle cx="164.98" cy="339.8" r="2.5" fill="#0e0e0e"/>
<circle cx="180.44" cy="331.2" r="2.5" fill="#0e0e0e"/>
<circle cx="195.9" cy="322.5" r="2.5" fill="#0e0e0e"/>
<circle cx="211.36" cy="314.6" r="2.5" fill="#0e0e0e"/>
<circle cx="226.82" cy="308" r="2.5" fill="#0e0e0e"/>
<circle cx="242.28" cy="304" r="2.5" fill="#0e0e0e"/>
<polyline points="149.52,363 164.98,341 180.44,332 195.9,324 211.36,315.5 226.82,309 242.28,305" fill="none" stroke="#fff" stroke-opacity="0.7" stroke-width="1.5499999999999998" stroke-linejoin="round"/>
<polyline points="149.52,363 164.98,341 180.44,332 195.9,324 211.36,315.5 226.82,309 242.28,305" fill="none" stroke="#0e0e0e" stroke-width="0.95" stroke-linejoin="round"/>
<circle cx="149.52" cy="363" r="2.5" fill="#0e0e0e"/>
<circle cx="164.98" cy="341" r="2.5" fill="#0e0e0e"/>
<circle cx="180.44" cy="332" r="2.5" fill="#0e0e0e"/>
<circle cx="195.9" cy="324" r="2.5" fill="#0e0e0e"/>
<circle cx="211.36" cy="315.5" r="2.5" fill="#0e0e0e"/>
<circle cx="226.82" cy="309" r="2.5" fill="#0e0e0e"/>
<circle cx="242.28" cy="305" r="2.5" fill="#0e0e0e"/>
<path d="M25.7,246.3h2 M25.7,238.29h2 M25.7,232.61h2 M25.7,228.2h2 M25.7,224.59h2 M25.7,221.55h2 M25.7,218.91h2 M25.7,216.58h2 M25.7,260h3 M25.7,291.8h2 M25.7,283.79h2 M25.7,278.11h2 M25.7,273.7h2 M25.7,270.09h2 M25.7,267.05h2 M25.7,264.41h2 M25.7,262.08h2 M25.7,305.5h3 M25.7,337.3h2 M25.7,329.29h2 M25.7,323.61h2 M25.7,319.2h2 M25.7,315.59h2 M25.7,312.55h2 M25.7,309.91h2 M25.7,307.58h2 M25.7,351h3 M25.7,382.8h2 M25.7,374.79h2 M25.7,369.11h2 M25.7,364.7h2 M25.7,361.09h2 M25.7,358.05h2 M25.7,355.41h2 M25.7,353.08h2 M41.3,396v-2.2 M56.76,396v-2.2 M72.22,396v-2.2 M87.68,396v-2.2 M103.14,396v-2.2 M118.6,396v-2.2 M134.06,396v-2.2 M149.52,396v-2.2 M164.98,396v-2.2 M180.44,396v-2.2 M195.9,396v-2.2 M211.36,396v-2.2 M226.82,396v-2.2 M242.28,396v-2.2" stroke="#10145a" stroke-width="1" fill="none"/>
<line x1="25.7" y1="214.5" x2="257.9" y2="214.5" stroke="#2a3266" stroke-width="1.7"/>
<line x1="257.9" y1="214.5" x2="257.9" y2="396" stroke="#4a5580" stroke-width="2.0"/>
<line x1="25.7" y1="396" x2="258.7" y2="396" stroke="#1a2060" stroke-width="1.4"/>
<line x1="25.7" y1="213.7" x2="25.7" y2="396.7" stroke="#363f74" stroke-width="1.8"/>
<text x="17" y="218.1" text-anchor="end" class="ax">100</text>
<text x="17" y="263.6" text-anchor="end" class="ax">10</text>
<text x="17" y="309.1" text-anchor="end" class="ax">1</text>
<text x="17" y="354.6" text-anchor="end" class="ax">0.1</text>
<text x="17" y="400.1" text-anchor="end" class="ax">0.01</text>
<text x="40.8" y="410" text-anchor="middle" class="ax" style="font-size:8.5px">La</text>
<text x="56.26" y="410" text-anchor="middle" class="ax" style="font-size:8.5px">Ce</text>
<text x="71.72" y="410" text-anchor="middle" class="ax" style="font-size:8.5px">Pr</text>
<text x="87.18" y="410" text-anchor="middle" class="ax" style="font-size:8.5px">Nd</text>
<text x="102.64" y="410" text-anchor="middle" class="ax" style="font-size:8.5px">Sm</text>
<text x="118.1" y="410" text-anchor="middle" class="ax" style="font-size:8.5px">Eu</text>
<text x="133.56" y="410" text-anchor="middle" class="ax" style="font-size:8.5px">Gd</text>
<text x="149.02" y="410" text-anchor="middle" class="ax" style="font-size:8.5px">Tb</text>
<text x="164.48" y="410" text-anchor="middle" class="ax" style="font-size:8.5px">Dy</text>
<text x="179.94" y="410" text-anchor="middle" class="ax" style="font-size:8.5px">Ho</text>
<text x="195.4" y="410" text-anchor="middle" class="ax" style="font-size:8.5px">Er</text>
<text x="210.86" y="410" text-anchor="middle" class="ax" style="font-size:8.5px">Tm</text>
<text x="226.32" y="410" text-anchor="middle" class="ax" style="font-size:8.5px">Yb</text>
<text x="241.78" y="410" text-anchor="middle" class="ax" style="font-size:8.5px">Lu</text>
<text x="31.5" y="228.3" class="ti">Opx/Chondrite</text>
<line x1="285" y1="259.5" x2="546.5" y2="259.5" stroke="#bdbdbd" stroke-width="1.1"/>
<line x1="285" y1="305.4" x2="546.5" y2="305.4" stroke="#bdbdbd" stroke-width="1.1"/>
<line x1="285" y1="351.5" x2="546.5" y2="351.5" stroke="#bdbdbd" stroke-width="1.1"/>
<clipPath id="k4"><rect x="285" y="213.5" width="261.5" height="188.7"/></clipPath><g clip-path="url(#k4)">
<polyline points="298.6,344.2 312.37,333.1 326.14,350.3 339.91,330.2 353.68,328.4 367.45,318.6 381.22,321.7 394.99,322.4 408.76,321 422.53,296.5 436.3,317.6 450.07,312.9 463.84,309.4 477.61,309.8 491.38,305.4 505.15,300.9 518.92,295.8 532.69,292" fill="none" stroke="#fff" stroke-opacity="0.7" stroke-width="1.5499999999999998" stroke-linejoin="round"/>
<polyline points="298.6,344.2 312.37,333.1 326.14,350.3 339.91,330.2 353.68,328.4 367.45,318.6 381.22,321.7 394.99,322.4 408.76,321 422.53,296.5 436.3,317.6 450.07,312.9 463.84,309.4 477.61,309.8 491.38,305.4 505.15,300.9 518.92,295.8 532.69,292" fill="none" stroke="#5e5e5e" stroke-width="0.95" stroke-linejoin="round"/>
<circle cx="298.6" cy="344.2" r="2.05" fill="#fff" stroke="#333333" stroke-width="1.05"/>
<circle cx="312.37" cy="333.1" r="2.05" fill="#fff" stroke="#333333" stroke-width="1.05"/>
<circle cx="326.14" cy="350.3" r="2.05" fill="#fff" stroke="#333333" stroke-width="1.05"/>
<circle cx="339.91" cy="330.2" r="2.05" fill="#fff" stroke="#333333" stroke-width="1.05"/>
<circle cx="353.68" cy="328.4" r="2.05" fill="#fff" stroke="#333333" stroke-width="1.05"/>
<circle cx="367.45" cy="318.6" r="2.05" fill="#fff" stroke="#333333" stroke-width="1.05"/>
<circle cx="381.22" cy="321.7" r="2.05" fill="#fff" stroke="#333333" stroke-width="1.05"/>
<circle cx="394.99" cy="322.4" r="2.05" fill="#fff" stroke="#333333" stroke-width="1.05"/>
<circle cx="408.76" cy="321" r="2.05" fill="#fff" stroke="#333333" stroke-width="1.05"/>
<circle cx="422.53" cy="296.5" r="2.05" fill="#fff" stroke="#333333" stroke-width="1.05"/>
<circle cx="436.3" cy="317.6" r="2.05" fill="#fff" stroke="#333333" stroke-width="1.05"/>
<circle cx="450.07" cy="312.9" r="2.05" fill="#fff" stroke="#333333" stroke-width="1.05"/>
<circle cx="463.84" cy="309.4" r="2.05" fill="#fff" stroke="#333333" stroke-width="1.05"/>
<circle cx="477.61" cy="309.8" r="2.05" fill="#fff" stroke="#333333" stroke-width="1.05"/>
<circle cx="491.38" cy="305.4" r="2.05" fill="#fff" stroke="#333333" stroke-width="1.05"/>
<circle cx="505.15" cy="300.9" r="2.05" fill="#fff" stroke="#333333" stroke-width="1.05"/>
<circle cx="518.92" cy="295.8" r="2.05" fill="#fff" stroke="#333333" stroke-width="1.05"/>
<circle cx="532.69" cy="292" r="2.05" fill="#fff" stroke="#333333" stroke-width="1.05"/>
<polyline points="298.6,353 312.37,342.4 326.14,358.3 339.91,336.3 353.68,331.8 367.45,323.9 381.22,326.1 394.99,323.5 408.76,322 422.53,299 436.3,318.5 450.07,314 463.84,311.1 477.61,313.6 491.38,307.3 505.15,302.8 518.92,296.6 532.69,294.5" fill="none" stroke="#fff" stroke-opacity="0.7" stroke-width="1.5499999999999998" stroke-linejoin="round"/>
<polyline points="298.6,353 312.37,342.4 326.14,358.3 339.91,336.3 353.68,331.8 367.45,323.9 381.22,326.1 394.99,323.5 408.76,322 422.53,299 436.3,318.5 450.07,314 463.84,311.1 477.61,313.6 491.38,307.3 505.15,302.8 518.92,296.6 532.69,294.5" fill="none" stroke="#5e5e5e" stroke-width="0.95" stroke-linejoin="round"/>
<circle cx="298.6" cy="353" r="2.05" fill="#fff" stroke="#333333" stroke-width="1.05"/>
<circle cx="312.37" cy="342.4" r="2.05" fill="#fff" stroke="#333333" stroke-width="1.05"/>
<circle cx="326.14" cy="358.3" r="2.05" fill="#fff" stroke="#333333" stroke-width="1.05"/>
<circle cx="339.91" cy="336.3" r="2.05" fill="#fff" stroke="#333333" stroke-width="1.05"/>
<circle cx="353.68" cy="331.8" r="2.05" fill="#fff" stroke="#333333" stroke-width="1.05"/>
<circle cx="367.45" cy="323.9" r="2.05" fill="#fff" stroke="#333333" stroke-width="1.05"/>
<circle cx="381.22" cy="326.1" r="2.05" fill="#fff" stroke="#333333" stroke-width="1.05"/>
<circle cx="394.99" cy="323.5" r="2.05" fill="#fff" stroke="#333333" stroke-width="1.05"/>
<circle cx="408.76" cy="322" r="2.05" fill="#fff" stroke="#333333" stroke-width="1.05"/>
<circle cx="422.53" cy="299" r="2.05" fill="#fff" stroke="#333333" stroke-width="1.05"/>
<circle cx="436.3" cy="318.5" r="2.05" fill="#fff" stroke="#333333" stroke-width="1.05"/>
<circle cx="450.07" cy="314" r="2.05" fill="#fff" stroke="#333333" stroke-width="1.05"/>
<circle cx="463.84" cy="311.1" r="2.05" fill="#fff" stroke="#333333" stroke-width="1.05"/>
<circle cx="477.61" cy="313.6" r="2.05" fill="#fff" stroke="#333333" stroke-width="1.05"/>
<circle cx="491.38" cy="307.3" r="2.05" fill="#fff" stroke="#333333" stroke-width="1.05"/>
<circle cx="505.15" cy="302.8" r="2.05" fill="#fff" stroke="#333333" stroke-width="1.05"/>
<circle cx="518.92" cy="296.6" r="2.05" fill="#fff" stroke="#333333" stroke-width="1.05"/>
<circle cx="532.69" cy="294.5" r="2.05" fill="#fff" stroke="#333333" stroke-width="1.05"/>
<polyline points="298.6,356.2 312.37,338.8 326.14,365.8 339.91,334 353.68,327 367.45,307.2 381.22,321.7 394.99,319 408.76,317.6 422.53,293.3 436.3,314.4 450.07,311 463.84,307.2 477.61,306 491.38,302.2 505.15,297.7 518.92,293.3 532.69,289.5" fill="none" stroke="#fff" stroke-opacity="0.7" stroke-width="1.7999999999999998" stroke-linejoin="round"/>
<polyline points="298.6,356.2 312.37,338.8 326.14,365.8 339.91,334 353.68,327 367.45,307.2 381.22,321.7 394.99,319 408.76,317.6 422.53,293.3 436.3,314.4 450.07,311 463.84,307.2 477.61,306 491.38,302.2 505.15,297.7 518.92,293.3 532.69,289.5" fill="none" stroke="#36198c" stroke-width="1.2" stroke-linejoin="round"/>
<polyline points="298.6,355 312.37,337.6 326.14,364.6 339.91,333 353.68,326 367.45,305.6 381.22,320.6 394.99,318 408.76,316.6 422.53,291.8 436.3,313.3 450.07,310 463.84,306.3 477.61,305.1 491.38,301.3 505.15,296.8 518.92,292.4 532.69,288.6" fill="none" stroke="#36198c" stroke-width="1.2" stroke-linejoin="round"/>
<polyline points="408.76,370 422.53,322.5 436.3,347 450.07,336 463.84,328.5 477.61,327 491.38,318.7 505.15,310.5 518.92,305.4 532.69,301.3" fill="none" stroke="#fff" stroke-opacity="0.7" stroke-width="1.5499999999999998" stroke-linejoin="round"/>
<polyline points="408.76,370 422.53,322.5 436.3,347 450.07,336 463.84,328.5 477.61,327 491.38,318.7 505.15,310.5 518.92,305.4 532.69,301.3" fill="none" stroke="#3a9a3a" stroke-width="0.95" stroke-linejoin="round"/>
<rect x="406.46" y="367.7" width="4.6" height="4.6" fill="#fff" stroke="#3aa03a" stroke-width="1"/>
<rect x="420.23" y="320.2" width="4.6" height="4.6" fill="#fff" stroke="#3aa03a" stroke-width="1"/>
<rect x="434" y="344.7" width="4.6" height="4.6" fill="#fff" stroke="#3aa03a" stroke-width="1"/>
<rect x="447.77" y="333.7" width="4.6" height="4.6" fill="#fff" stroke="#3aa03a" stroke-width="1"/>
<rect x="461.54" y="326.2" width="4.6" height="4.6" fill="#fff" stroke="#3aa03a" stroke-width="1"/>
<rect x="475.31" y="324.7" width="4.6" height="4.6" fill="#fff" stroke="#3aa03a" stroke-width="1"/>
<rect x="489.08" y="316.4" width="4.6" height="4.6" fill="#fff" stroke="#3aa03a" stroke-width="1"/>
<rect x="502.85" y="308.2" width="4.6" height="4.6" fill="#fff" stroke="#3aa03a" stroke-width="1"/>
<rect x="516.62" y="303.1" width="4.6" height="4.6" fill="#fff" stroke="#3aa03a" stroke-width="1"/>
<rect x="530.39" y="299" width="4.6" height="4.6" fill="#fff" stroke="#3aa03a" stroke-width="1"/>
<polyline points="298.6,379.2 312.37,368.8 326.14,401 339.91,367.2 353.68,367.2 367.45,333.7 381.22,362 394.99,372.5 408.76,352 422.53,320.3 436.3,349.4 450.07,333.5 463.84,326.3 477.61,328 491.38,320 505.15,311.5 518.92,306.5 532.69,302.5" fill="none" stroke="#fff" stroke-opacity="0.7" stroke-width="1.5499999999999998" stroke-linejoin="round"/>
<polyline points="298.6,379.2 312.37,368.8 326.14,401 339.91,367.2 353.68,367.2 367.45,333.7 381.22,362 394.99,372.5 408.76,352 422.53,320.3 436.3,349.4 450.07,333.5 463.84,326.3 477.61,328 491.38,320 505.15,311.5 518.92,306.5 532.69,302.5" fill="none" stroke="#3a9a3a" stroke-width="0.95" stroke-linejoin="round"/>
<circle cx="298.6" cy="379.2" r="2.5" fill="#1a9f1a"/>
<circle cx="312.37" cy="368.8" r="2.5" fill="#1a9f1a"/>
<circle cx="339.91" cy="367.2" r="2.5" fill="#1a9f1a"/>
<circle cx="353.68" cy="367.2" r="2.5" fill="#1a9f1a"/>
<circle cx="367.45" cy="333.7" r="2.5" fill="#1a9f1a"/>
<circle cx="381.22" cy="362" r="2.5" fill="#1a9f1a"/>
<circle cx="394.99" cy="372.5" r="2.5" fill="#1a9f1a"/>
<circle cx="408.76" cy="352" r="2.5" fill="#1a9f1a"/>
<circle cx="422.53" cy="320.3" r="2.5" fill="#1a9f1a"/>
<circle cx="436.3" cy="349.4" r="2.5" fill="#1a9f1a"/>
<circle cx="450.07" cy="333.5" r="2.5" fill="#1a9f1a"/>
<circle cx="463.84" cy="326.3" r="2.5" fill="#1a9f1a"/>
<circle cx="477.61" cy="328" r="2.5" fill="#1a9f1a"/>
<circle cx="491.38" cy="320" r="2.5" fill="#1a9f1a"/>
<circle cx="505.15" cy="311.5" r="2.5" fill="#1a9f1a"/>
<circle cx="518.92" cy="306.5" r="2.5" fill="#1a9f1a"/>
<circle cx="532.69" cy="302.5" r="2.5" fill="#1a9f1a"/>
<polyline points="298.6,376 312.37,366 326.14,399 339.91,366 353.68,365.4" fill="none" stroke="#fff" stroke-opacity="0.7" stroke-width="1.5499999999999998" stroke-linejoin="round"/>
<polyline points="298.6,376 312.37,366 326.14,399 339.91,366 353.68,365.4" fill="none" stroke="#3a9a3a" stroke-width="0.95" stroke-linejoin="round"/>
<circle cx="298.6" cy="376" r="2.5" fill="#1a9f1a"/>
<circle cx="312.37" cy="366" r="2.5" fill="#1a9f1a"/>
<circle cx="339.91" cy="366" r="2.5" fill="#1a9f1a"/>
<circle cx="353.68" cy="365.4" r="2.5" fill="#1a9f1a"/>
<polyline points="298.6,346.3 312.37,353.5 326.14,381.3 339.91,364" fill="none" stroke="#fff" stroke-opacity="0.7" stroke-width="1.5499999999999998" stroke-linejoin="round"/>
<polyline points="298.6,346.3 312.37,353.5 326.14,381.3 339.91,364" fill="none" stroke="#cc2a1e" stroke-width="0.95" stroke-linejoin="round"/>
<polyline points="367.45,357.5 381.22,366.7 394.99,358.6 408.76,355.2 422.53,328 436.3,345.4 450.07,341.4 463.84,330.8 477.61,333 491.38,326 505.15,318 518.92,311 532.69,306.5" fill="none" stroke="#fff" stroke-opacity="0.7" stroke-width="1.5499999999999998" stroke-linejoin="round"/>
<polyline points="367.45,357.5 381.22,366.7 394.99,358.6 408.76,355.2 422.53,328 436.3,345.4 450.07,341.4 463.84,330.8 477.61,333 491.38,326 505.15,318 518.92,311 532.69,306.5" fill="none" stroke="#cc2a1e" stroke-width="0.95" stroke-linejoin="round"/>
<circle cx="298.6" cy="346.3" r="2.5" fill="#d0100e"/>
<circle cx="312.37" cy="353.5" r="2.5" fill="#d0100e"/>
<circle cx="326.14" cy="381.3" r="2.5" fill="#d0100e"/>
<circle cx="339.91" cy="364" r="2.5" fill="#d0100e"/>
<circle cx="367.45" cy="357.5" r="2.5" fill="#d0100e"/>
<circle cx="381.22" cy="366.7" r="2.5" fill="#d0100e"/>
<circle cx="394.99" cy="358.6" r="2.5" fill="#d0100e"/>
<circle cx="408.76" cy="355.2" r="2.5" fill="#d0100e"/>
<circle cx="422.53" cy="328" r="2.5" fill="#d0100e"/>
<circle cx="436.3" cy="345.4" r="2.5" fill="#d0100e"/>
<circle cx="450.07" cy="341.4" r="2.5" fill="#d0100e"/>
<circle cx="463.84" cy="330.8" r="2.5" fill="#d0100e"/>
<circle cx="477.61" cy="333" r="2.5" fill="#d0100e"/>
<circle cx="491.38" cy="326" r="2.5" fill="#d0100e"/>
<circle cx="505.15" cy="318" r="2.5" fill="#d0100e"/>
<circle cx="518.92" cy="311" r="2.5" fill="#d0100e"/>
<circle cx="532.69" cy="306.5" r="2.5" fill="#d0100e"/>
<polyline points="298.6,375.4 312.37,364.9 326.14,393.2 339.91,368.6" fill="none" stroke="#fff" stroke-opacity="0.7" stroke-width="1.5499999999999998" stroke-linejoin="round"/>
<polyline points="298.6,375.4 312.37,364.9 326.14,393.2 339.91,368.6" fill="none" stroke="#cc2a1e" stroke-width="0.95" stroke-linejoin="round"/>
<polyline points="422.53,330 436.3,346.5 450.07,345 463.84,335 477.61,334.5 491.38,327.6 505.15,319.4 518.92,312.4 532.69,307.9" fill="none" stroke="#fff" stroke-opacity="0.7" stroke-width="1.5499999999999998" stroke-linejoin="round"/>
<polyline points="422.53,330 436.3,346.5 450.07,345 463.84,335 477.61,334.5 491.38,327.6 505.15,319.4 518.92,312.4 532.69,307.9" fill="none" stroke="#cc2a1e" stroke-width="0.95" stroke-linejoin="round"/>
<circle cx="298.6" cy="375.4" r="2.5" fill="#d0100e"/>
<circle cx="312.37" cy="364.9" r="2.5" fill="#d0100e"/>
<circle cx="326.14" cy="393.2" r="2.5" fill="#d0100e"/>
<circle cx="339.91" cy="368.6" r="2.5" fill="#d0100e"/>
<circle cx="422.53" cy="330" r="2.5" fill="#d0100e"/>
<circle cx="436.3" cy="346.5" r="2.5" fill="#d0100e"/>
<circle cx="450.07" cy="345" r="2.5" fill="#d0100e"/>
<circle cx="463.84" cy="335" r="2.5" fill="#d0100e"/>
<circle cx="477.61" cy="334.5" r="2.5" fill="#d0100e"/>
<circle cx="491.38" cy="327.6" r="2.5" fill="#d0100e"/>
<circle cx="505.15" cy="319.4" r="2.5" fill="#d0100e"/>
<circle cx="518.92" cy="312.4" r="2.5" fill="#d0100e"/>
<circle cx="532.69" cy="307.9" r="2.5" fill="#d0100e"/>
<polyline points="422.53,332.2 436.3,348 450.07,348 463.84,338.8 477.61,336 491.38,329 505.15,321 518.92,313.5 532.69,309" fill="none" stroke="#fff" stroke-opacity="0.7" stroke-width="1.5499999999999998" stroke-linejoin="round"/>
<polyline points="422.53,332.2 436.3,348 450.07,348 463.84,338.8 477.61,336 491.38,329 505.15,321 518.92,313.5 532.69,309" fill="none" stroke="#cc2a1e" stroke-width="0.95" stroke-linejoin="round"/>
<circle cx="422.53" cy="332.2" r="2.5" fill="#d0100e"/>
<circle cx="436.3" cy="348" r="2.5" fill="#d0100e"/>
<circle cx="450.07" cy="348" r="2.5" fill="#d0100e"/>
<circle cx="463.84" cy="338.8" r="2.5" fill="#d0100e"/>
<circle cx="477.61" cy="336" r="2.5" fill="#d0100e"/>
<circle cx="491.38" cy="329" r="2.5" fill="#d0100e"/>
<circle cx="505.15" cy="321" r="2.5" fill="#d0100e"/>
<circle cx="518.92" cy="313.5" r="2.5" fill="#d0100e"/>
<circle cx="532.69" cy="309" r="2.5" fill="#d0100e"/>
<polyline points="298.6,387.1 312.37,381.3 326.14,420 339.91,382.6" fill="none" stroke="#fff" stroke-opacity="0.7" stroke-width="1.5499999999999998" stroke-linejoin="round"/>
<polyline points="298.6,387.1 312.37,381.3 326.14,420 339.91,382.6" fill="none" stroke="#cc2a1e" stroke-width="0.95" stroke-linejoin="round"/>
<circle cx="298.6" cy="387.1" r="2.5" fill="#d0100e"/>
<circle cx="312.37" cy="381.3" r="2.5" fill="#d0100e"/>
<circle cx="339.91" cy="382.6" r="2.5" fill="#d0100e"/>
<polyline points="422.53,337.5 436.3,356 450.07,340.9 463.84,332.2 477.61,332 491.38,323.2 505.15,315.5 518.92,308.5 532.69,304.1" fill="none" stroke="#fff" stroke-opacity="0.7" stroke-width="1.5499999999999998" stroke-linejoin="round"/>
<polyline points="422.53,337.5 436.3,356 450.07,340.9 463.84,332.2 477.61,332 491.38,323.2 505.15,315.5 518.92,308.5 532.69,304.1" fill="none" stroke="#0e0e0e" stroke-width="0.95" stroke-linejoin="round"/>
<circle cx="422.53" cy="337.5" r="2.5" fill="#0e0e0e"/>
<circle cx="436.3" cy="356" r="2.5" fill="#0e0e0e"/>
<circle cx="450.07" cy="340.9" r="2.5" fill="#0e0e0e"/>
<circle cx="463.84" cy="332.2" r="2.5" fill="#0e0e0e"/>
<circle cx="477.61" cy="332" r="2.5" fill="#0e0e0e"/>
<circle cx="491.38" cy="323.2" r="2.5" fill="#0e0e0e"/>
<circle cx="505.15" cy="315.5" r="2.5" fill="#0e0e0e"/>
<circle cx="518.92" cy="308.5" r="2.5" fill="#0e0e0e"/>
<circle cx="532.69" cy="304.1" r="2.5" fill="#0e0e0e"/>
<polyline points="422.53,337.5 436.3,363.9 450.07,341.6 463.84,333 477.61,332.8 491.38,324 505.15,316.2 518.92,309.2 532.69,304.9" fill="none" stroke="#fff" stroke-opacity="0.7" stroke-width="1.5499999999999998" stroke-linejoin="round"/>
<polyline points="422.53,337.5 436.3,363.9 450.07,341.6 463.84,333 477.61,332.8 491.38,324 505.15,316.2 518.92,309.2 532.69,304.9" fill="none" stroke="#0e0e0e" stroke-width="0.95" stroke-linejoin="round"/>
<circle cx="422.53" cy="337.5" r="2.5" fill="#0e0e0e"/>
<circle cx="436.3" cy="363.9" r="2.5" fill="#0e0e0e"/>
<circle cx="450.07" cy="341.6" r="2.5" fill="#0e0e0e"/>
<circle cx="463.84" cy="333" r="2.5" fill="#0e0e0e"/>
<circle cx="477.61" cy="332.8" r="2.5" fill="#0e0e0e"/>
<circle cx="491.38" cy="324" r="2.5" fill="#0e0e0e"/>
<circle cx="505.15" cy="316.2" r="2.5" fill="#0e0e0e"/>
<circle cx="518.92" cy="309.2" r="2.5" fill="#0e0e0e"/>
<circle cx="532.69" cy="304.9" r="2.5" fill="#0e0e0e"/>
</g>
<path d="M285,245.68h2 M285,237.6h2 M285,231.87h2 M285,227.42h2 M285,223.78h2 M285,220.71h2 M285,218.05h2 M285,215.7h2 M285,259.5h3 M285,291.58h2 M285,283.5h2 M285,277.77h2 M285,273.32h2 M285,269.68h2 M285,266.61h2 M285,263.95h2 M285,261.6h2 M285,305.4h3 M285,337.62h2 M285,329.5h2 M285,323.75h2 M285,319.28h2 M285,315.63h2 M285,312.54h2 M285,309.87h2 M285,307.51h2 M285,351.5h3 M285,383.72h2 M285,375.6h2 M285,369.85h2 M285,365.38h2 M285,361.73h2 M285,358.64h2 M285,355.97h2 M285,353.61h2 M298.6,397.2v-2.2 M312.37,397.2v-2.2 M326.14,397.2v-2.2 M339.91,397.2v-2.2 M353.68,397.2v-2.2 M367.45,397.2v-2.2 M381.22,397.2v-2.2 M394.99,397.2v-2.2 M408.76,397.2v-2.2 M422.53,397.2v-2.2 M436.3,397.2v-2.2 M450.07,397.2v-2.2 M463.84,397.2v-2.2 M477.61,397.2v-2.2 M491.38,397.2v-2.2 M505.15,397.2v-2.2 M518.92,397.2v-2.2 M532.69,397.2v-2.2" stroke="#10145a" stroke-width="1" fill="none"/>
<line x1="285" y1="213.5" x2="546.5" y2="213.5" stroke="#1c2555" stroke-width="1.4"/>
<line x1="546.5" y1="213.5" x2="546.5" y2="397.2" stroke="#121852" stroke-width="1.5"/>
<line x1="285" y1="397.2" x2="547.3" y2="397.2" stroke="#1a2060" stroke-width="1.4"/>
<line x1="285" y1="212.7" x2="285" y2="397.9" stroke="#25306e" stroke-width="1.9"/>
<text x="276" y="217.2" text-anchor="end" class="ax">100</text>
<text x="276" y="263.1" text-anchor="end" class="ax">10</text>
<text x="276" y="309" text-anchor="end" class="ax">1</text>
<text x="276" y="355.1" text-anchor="end" class="ax">0.1</text>
<text x="276" y="401.2" text-anchor="end" class="ax">0.01</text>
<text x="298.1" y="410.8" text-anchor="middle" class="ax" style="font-size:8.5px">La</text>
<text x="311.87" y="410.8" text-anchor="middle" class="ax" style="font-size:8.5px">Ce</text>
<text x="325.64" y="410.8" text-anchor="middle" class="ax" style="font-size:8.5px">Sr</text>
<text x="339.41" y="410.8" text-anchor="middle" class="ax" style="font-size:8.5px">Pr</text>
<text x="353.18" y="410.8" text-anchor="middle" class="ax" style="font-size:8.5px">Nd</text>
<text x="366.95" y="410.8" text-anchor="middle" class="ax" style="font-size:8.5px">Zr</text>
<text x="380.72" y="410.8" text-anchor="middle" class="ax" style="font-size:8.5px">Sm</text>
<text x="394.49" y="410.8" text-anchor="middle" class="ax" style="font-size:8.5px">Eu</text>
<text x="408.26" y="410.8" text-anchor="middle" class="ax" style="font-size:8.5px">Gd</text>
<text x="422.03" y="410.8" text-anchor="middle" class="ax" style="font-size:8.5px">Ti</text>
<text x="435.8" y="410.8" text-anchor="middle" class="ax" style="font-size:8.5px">Tb</text>
<text x="449.57" y="410.8" text-anchor="middle" class="ax" style="font-size:8.5px">Dy</text>
<text x="463.34" y="410.8" text-anchor="middle" class="ax" style="font-size:8.5px">Y</text>
<text x="477.11" y="410.8" text-anchor="middle" class="ax" style="font-size:8.5px">Ho</text>
<text x="490.88" y="410.8" text-anchor="middle" class="ax" style="font-size:8.5px">Er</text>
<text x="504.65" y="410.8" text-anchor="middle" class="ax" style="font-size:8.5px">Tm</text>
<text x="518.42" y="410.8" text-anchor="middle" class="ax" style="font-size:8.5px">Yb</text>
<text x="532.19" y="410.8" text-anchor="middle" class="ax" style="font-size:8.5px">Lu</text>
<text x="289.5" y="227.7" class="ti">Opx/Chondrite</text>
<circle cx="367.45" cy="393.6" r="2.5" fill="#d0100e"/>
<circle cx="367.45" cy="395.6" r="2.5" fill="#d0100e"/>
</svg>
</body></html>
